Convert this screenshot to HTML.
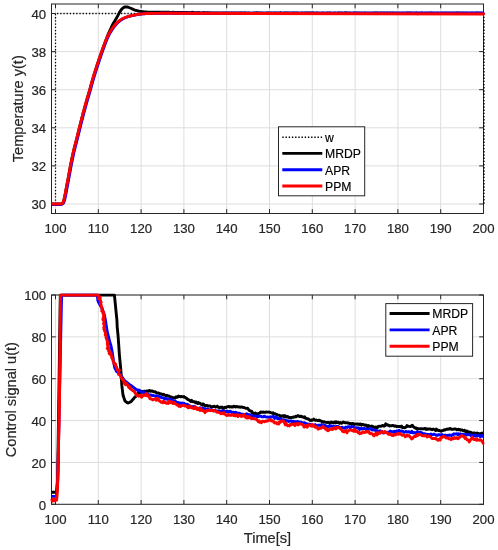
<!DOCTYPE html>
<html><head><meta charset="utf-8"><title>Plot</title>
<style>html,body{margin:0;padding:0;background:#fff;}body{width:498px;height:550px;overflow:hidden;}svg{display:block;}</style>
</head><body>
<svg width="498" height="550" viewBox="0 0 498 550">
<rect x="0" y="0" width="498" height="550" fill="#fff"/>
<g stroke="#dedede" stroke-width="1"><line x1="55.5" y1="4" x2="55.5" y2="213.5"/><line x1="98.3" y1="4" x2="98.3" y2="213.5"/><line x1="141.1" y1="4" x2="141.1" y2="213.5"/><line x1="183.9" y1="4" x2="183.9" y2="213.5"/><line x1="226.7" y1="4" x2="226.7" y2="213.5"/><line x1="269.5" y1="4" x2="269.5" y2="213.5"/><line x1="312.3" y1="4" x2="312.3" y2="213.5"/><line x1="355.1" y1="4" x2="355.1" y2="213.5"/><line x1="397.9" y1="4" x2="397.9" y2="213.5"/><line x1="440.7" y1="4" x2="440.7" y2="213.5"/><line x1="483.5" y1="4" x2="483.5" y2="213.5"/><line x1="51.5" y1="204" x2="483.5" y2="204"/><line x1="51.5" y1="165.9" x2="483.5" y2="165.9"/><line x1="51.5" y1="127.8" x2="483.5" y2="127.8"/><line x1="51.5" y1="89.7" x2="483.5" y2="89.7"/><line x1="51.5" y1="51.6" x2="483.5" y2="51.6"/><line x1="51.5" y1="13.5" x2="483.5" y2="13.5"/></g>
<path d="M55.5 213.5v-4.3M55.5 4v4.3M98.3 213.5v-4.3M98.3 4v4.3M141.1 213.5v-4.3M141.1 4v4.3M183.9 213.5v-4.3M183.9 4v4.3M226.7 213.5v-4.3M226.7 4v4.3M269.5 213.5v-4.3M269.5 4v4.3M312.3 213.5v-4.3M312.3 4v4.3M355.1 213.5v-4.3M355.1 4v4.3M397.9 213.5v-4.3M397.9 4v4.3M440.7 213.5v-4.3M440.7 4v4.3M483.5 213.5v-4.3M483.5 4v4.3M51.5 204h4.3M483.5 204h-4.3M51.5 165.9h4.3M483.5 165.9h-4.3M51.5 127.8h4.3M483.5 127.8h-4.3M51.5 89.7h4.3M483.5 89.7h-4.3M51.5 51.6h4.3M483.5 51.6h-4.3M51.5 13.5h4.3M483.5 13.5h-4.3" stroke="#262626" stroke-width="1" fill="none"/><rect x="51.5" y="4" width="432" height="209.5" fill="none" stroke="#262626" stroke-width="1"/>
<g fill="none" stroke-width="2.9" stroke-linejoin="round" stroke-linecap="butt">
<path d="M55.5 204 V13.5 H483.5" stroke="#000" stroke-width="1.3" stroke-dasharray="1.3 1.9"/>
<path d="M483.9 13.5 V204" stroke="#000" stroke-width="1.5" stroke-dasharray="1.4 1.8"/>
<path d="M51.5 204 L59 204 L59.66 204 L60.32 204 L60.97 204 L61.61 203.86 L62.18 203.53 L62.68 203.11 L63.01 202.54 L63.26 201.94 L63.49 201.32 L63.7 200.7 L63.88 200.06 L64.05 199.43 L64.2 198.79 L64.34 198.14 L64.49 197.5 L64.63 196.86 L64.77 196.22 L64.9 195.57 L65.03 194.93 L65.16 194.28 L65.28 193.64 L65.41 192.99 L65.53 192.34 L65.65 191.69 L65.76 191.05 L65.88 190.4 L66 189.75 L66.12 189.11 L66.23 188.46 L66.35 187.81 L66.47 187.16 L66.6 186.52 L66.72 185.87 L66.84 185.23 L66.97 184.58 L67.09 183.93 L67.22 183.29 L67.34 182.64 L67.47 181.99 L67.59 181.35 L67.71 180.7 L67.84 180.06 L67.96 179.41 L68.09 178.76 L68.21 178.12 L68.33 177.47 L68.45 176.82 L68.57 176.18 L68.69 175.53 L68.81 174.88 L68.93 174.24 L69.05 173.59 L69.16 172.94 L69.28 172.29 L69.39 171.65 L69.51 171 L69.62 170.35 L69.74 169.7 L69.85 169.05 L69.97 168.41 L70.09 167.76 L70.21 167.11 L70.33 166.47 L70.45 165.82 L70.58 165.17 L70.71 164.53 L70.84 163.88 L70.96 163.24 L71.09 162.59 L71.22 161.95 L71.35 161.3 L71.49 160.66 L71.62 160.01 L71.75 159.37 L71.89 158.73 L72.02 158.08 L72.16 157.44 L72.29 156.79 L72.43 156.15 L72.57 155.51 L72.71 154.87 L72.85 154.22 L73 153.58 L73.14 152.94 L73.29 152.3 L73.43 151.66 L73.58 151.01 L73.73 150.37 L73.88 149.73 L74.04 149.09 L74.19 148.45 L74.35 147.82 L74.51 147.18 L74.67 146.54 L74.84 145.9 L75 145.27 L75.17 144.63 L75.34 143.99 L75.5 143.36 L75.67 142.72 L75.84 142.08 L76 141.45 L76.17 140.81 L76.33 140.17 L76.49 139.54 L76.65 138.9 L76.81 138.26 L76.97 137.62 L77.13 136.98 L77.29 136.34 L77.44 135.7 L77.6 135.07 L77.76 134.43 L77.92 133.79 L78.07 133.15 L78.23 132.51 L78.39 131.87 L78.55 131.23 L78.7 130.59 L78.86 129.96 L79.02 129.32 L79.18 128.68 L79.34 128.04 L79.5 127.4 L79.66 126.76 L79.82 126.13 L79.98 125.49 L80.14 124.85 L80.3 124.21 L80.46 123.57 L80.62 122.93 L80.78 122.3 L80.94 121.66 L81.11 121.02 L81.27 120.38 L81.43 119.75 L81.59 119.11 L81.76 118.47 L81.92 117.83 L82.09 117.2 L82.25 116.56 L82.42 115.92 L82.59 115.29 L82.75 114.65 L82.92 114.02 L83.09 113.38 L83.26 112.74 L83.43 112.11 L83.6 111.47 L83.77 110.84 L83.94 110.2 L84.11 109.57 L84.29 108.93 L84.46 108.3 L84.63 107.66 L84.81 107.03 L84.98 106.39 L85.15 105.76 L85.33 105.12 L85.5 104.49 L85.68 103.86 L85.86 103.22 L86.03 102.59 L86.21 101.96 L86.39 101.32 L86.57 100.69 L86.75 100.06 L86.93 99.42 L87.12 98.79 L87.3 98.16 L87.49 97.53 L87.67 96.9 L87.86 96.27 L88.04 95.63 L88.23 95 L88.41 94.37 L88.6 93.74 L88.78 93.11 L88.97 92.48 L89.15 91.85 L89.34 91.22 L89.52 90.58 L89.7 89.95 L89.88 89.32 L90.06 88.68 L90.24 88.05 L90.41 87.42 L90.59 86.78 L90.77 86.15 L90.94 85.52 L91.12 84.88 L91.29 84.25 L91.47 83.61 L91.64 82.98 L91.82 82.34 L91.99 81.71 L92.17 81.08 L92.35 80.44 L92.53 79.81 L92.71 79.18 L92.89 78.55 L93.08 77.91 L93.26 77.28 L93.45 76.65 L93.64 76.02 L93.83 75.39 L94.03 74.76 L94.22 74.14 L94.41 73.51 L94.61 72.88 L94.81 72.25 L95 71.62 L95.2 71 L95.4 70.37 L95.6 69.74 L95.8 69.12 L96 68.49 L96.2 67.86 L96.41 67.24 L96.61 66.61 L96.82 65.99 L97.02 65.36 L97.22 64.74 L97.43 64.11 L97.64 63.49 L97.84 62.86 L98.05 62.24 L98.26 61.61 L98.47 60.99 L98.67 60.36 L98.88 59.74 L99.1 59.12 L99.31 58.49 L99.52 57.87 L99.73 57.25 L99.94 56.63 L100.16 56 L100.37 55.38 L100.59 54.76 L100.81 54.14 L101.02 53.52 L101.24 52.9 L101.46 52.28 L101.68 51.66 L101.9 51.04 L102.12 50.42 L102.34 49.8 L102.57 49.18 L102.79 48.56 L103.02 47.94 L103.24 47.32 L103.47 46.71 L103.7 46.09 L103.93 45.47 L104.15 44.86 L104.38 44.24 L104.61 43.62 L104.85 43.01 L105.08 42.39 L105.31 41.77 L105.54 41.16 L105.77 40.54 L106 39.93 L106.23 39.31 L106.46 38.69 L106.69 38.08 L106.93 37.46 L107.16 36.85 L107.4 36.23 L107.64 35.62 L107.88 35.01 L108.13 34.4 L108.39 33.8 L108.65 33.19 L108.92 32.59 L109.19 31.99 L109.47 31.4 L109.75 30.8 L110.03 30.21 L110.31 29.61 L110.59 29.01 L110.86 28.42 L111.13 27.82 L111.4 27.22 L111.67 26.62 L111.95 26.02 L112.23 25.43 L112.52 24.84 L112.83 24.25 L113.14 23.67 L113.47 23.1 L113.81 22.54 L114.15 21.98 L114.5 21.42 L114.85 20.86 L115.18 20.3 L115.52 19.73 L115.85 19.16 L116.18 18.59 L116.51 18.02 L116.83 17.45 L117.16 16.88 L117.48 16.3 L117.8 15.73 L118.1 15.14 L118.4 14.56 L118.69 13.97 L118.99 13.38 L119.29 12.8 L119.6 12.22 L119.94 11.65 L120.3 11.1 L120.67 10.56 L121.05 10.02 L121.45 9.5 L121.88 9 L122.34 8.53 L122.85 8.12 L123.36 7.7 L123.91 7.33 L124.5 7.06 L125.15 7 L125.81 7 L126.47 7 L127.13 7 L127.78 7.05 L128.41 7.25 L129.01 7.51 L129.62 7.77 L130.23 8.01 L130.83 8.28 L131.43 8.55 L132.03 8.81 L132.64 9.07 L133.24 9.34 L133.85 9.6 L134.45 9.85 L135.07 10.09 L135.69 10.31 L136.32 10.49 L136.95 10.66 L137.59 10.83 L138.23 10.97 L138.88 11.11 L139.52 11.23 L140.17 11.33 L140.83 11.42 L141.48 11.51 L142.13 11.6 L142.78 11.68 L143.43 11.76 L144.09 11.84 L144.74 11.91 L145.4 11.96 L146.05 12.01 L146.71 12.05 L147.37 12.08 L148.03 12.1 L148.68 12.11 L149.34 12.12 L150 12.13 L150.66 12.13 L151.32 12.14 L151.97 12.15 L152.63 12.15 L153.29 12.15 L153.95 12.16 L154.61 12.16 L155.26 12.17 L155.92 12.17 L156.58 12.17 L157.24 12.18 L157.89 12.18 L158.55 12.19 L159.21 12.19 L159.87 12.2 L160.53 12.21 L161.18 12.21 L161.84 12.22 L162.5 12.23 L163.16 12.23 L163.82 12.24 L164.47 12.25 L165.13 12.26 L165.79 12.27 L166.45 12.27 L167.11 12.28 L167.76 12.29 L168.42 12.3 L169.08 12.31 L169.74 12.32 L170.39 12.38 L171.3 12.47 L172.2 12.41 L173.11 12.17 L174.01 12.52 L174.92 12.47 L175.82 12.33 L176.73 12.51 L177.63 12.49 L178.54 12.49 L179.44 12.46 L180.35 12.55 L181.25 12.37 L182.16 12.47 L183.06 12.44 L183.97 12.61 L184.87 12.54 L185.78 12.5 L186.68 12.44 L187.59 12.53 L188.49 12.58 L189.4 12.55 L190.3 12.8 L191.21 12.77 L192.11 12.22 L193.02 12.36 L193.92 12.63 L194.83 12.6 L195.73 12.71 L196.64 12.72 L197.54 13.02 L198.45 12.55 L199.35 12.67 L200.26 13.04 L201.16 12.85 L202.06 12.86 L202.97 12.7 L203.87 12.54 L204.78 12.82 L205.68 12.83 L206.59 12.64 L207.49 12.73 L208.4 12.83 L209.3 12.72 L210.21 12.85 L211.11 12.9 L212.02 12.9 L212.92 12.83 L213.83 13.01 L214.73 13.06 L215.64 12.99 L216.54 12.83 L217.45 13.08 L218.35 12.9 L219.26 13.12 L220.16 12.84 L221.07 13.14 L221.97 13 L222.88 12.82 L223.78 12.96 L224.69 13.01 L225.59 13.05 L226.5 12.86 L227.4 12.84 L228.31 13.04 L229.21 12.94 L230.12 13.05 L231.02 13.13 L231.93 12.77 L232.83 13.05 L233.74 13.2 L234.64 12.97 L235.55 12.9 L236.45 13.13 L237.36 13.06 L238.26 13.16 L239.17 12.97 L240.07 12.8 L240.98 13.01 L241.88 12.96 L242.79 13.14 L243.69 13.06 L244.6 12.78 L245.5 12.85 L246.41 13.16 L247.31 13.13 L248.22 12.94 L249.12 13.03 L250.03 13.1 L250.93 13.11 L251.84 13.17 L252.74 13.08 L253.64 13.02 L254.55 13 L255.45 13.2 L256.36 12.7 L257.26 13.02 L258.17 13.05 L259.07 12.83 L259.98 13.1 L260.88 12.95 L261.79 13.18 L262.69 13.03 L263.6 13.15 L264.5 13.23 L265.41 13.11 L266.31 12.92 L267.22 12.83 L268.12 13.32 L269.03 13.04 L269.93 12.95 L270.84 13.08 L271.74 13.03 L272.65 13.19 L273.55 13.07 L274.46 13.06 L275.36 12.96 L276.27 13.13 L277.17 12.91 L278.08 13.17 L278.98 13.3 L279.89 12.84 L280.79 12.7 L281.7 13.16 L282.6 13.45 L283.51 12.92 L284.41 12.89 L285.32 13.16 L286.22 12.95 L287.13 13 L288.03 13.03 L288.94 13.16 L289.84 13.02 L290.75 13.12 L291.65 13.06 L292.56 12.96 L293.46 13.04 L294.37 12.94 L295.27 13.09 L296.18 12.92 L297.08 12.92 L297.99 13.31 L298.89 13.08 L299.8 13.08 L300.7 13.17 L301.61 13.03 L302.51 13.06 L303.42 13.16 L304.32 13.14 L305.23 12.92 L306.13 13.22 L307.04 13.01 L307.94 12.94 L308.85 12.97 L309.75 13.04 L310.66 13.35 L311.56 12.93 L312.47 13.13 L313.37 12.79 L314.28 13.11 L315.18 13.24 L316.09 13.07 L316.99 13.02 L317.9 13.15 L318.8 13.22 L319.71 13.21 L320.61 13.41 L321.52 13.15 L322.42 13.03 L323.33 13.1 L324.23 13.11 L325.14 13.14 L326.04 13.12 L326.95 13.15 L327.85 12.87 L328.76 13.25 L329.66 13.04 L330.56 12.95 L331.47 13.22 L332.37 13.33 L333.28 13.2 L334.18 13.15 L335.09 12.99 L335.99 13.56 L336.9 13.27 L337.8 12.96 L338.71 13.02 L339.61 13.15 L340.52 12.9 L341.42 13.16 L342.33 13.07 L343.23 13.32 L344.14 13.29 L345.04 12.74 L345.95 13.15 L346.85 12.9 L347.76 13.31 L348.66 13.17 L349.57 13.23 L350.47 12.99 L351.38 13.42 L352.28 13.45 L353.19 12.99 L354.09 13.21 L355 13.05 L355.9 13.15 L356.81 12.97 L357.71 13.44 L358.62 13.01 L359.52 13.11 L360.43 13.24 L361.33 13.06 L362.24 13.13 L363.14 13.08 L364.05 13.14 L364.95 12.99 L365.86 13.1 L366.76 13.14 L367.67 13.12 L368.57 13.18 L369.48 13.13 L370.38 13.28 L371.29 13.12 L372.19 13.15 L373.1 13.07 L374 13.1 L374.91 12.99 L375.81 13.26 L376.72 13.01 L377.62 13.07 L378.53 13.23 L379.43 13.24 L380.34 13.12 L381.24 12.88 L382.15 13.25 L383.05 13.22 L383.96 12.97 L384.86 13.3 L385.77 13.08 L386.67 13.02 L387.58 13.21 L388.48 13.17 L389.39 13.22 L390.29 12.95 L391.2 13.47 L392.1 13.11 L393.01 12.97 L393.91 13.29 L394.82 13.15 L395.72 13.25 L396.63 13.15 L397.53 13.19 L398.44 13.24 L399.34 13.09 L400.25 13.31 L401.15 13.14 L402.06 13.08 L402.96 13.22 L403.87 13.28 L404.77 13.18 L405.68 13.08 L406.58 13.31 L407.48 12.95 L408.39 13.06 L409.29 13.22 L410.2 13.01 L411.1 13.22 L412.01 13.21 L412.91 13.35 L413.82 13.08 L414.72 13.13 L415.63 13.27 L416.53 12.86 L417.44 13.69 L418.34 13.12 L419.25 13.12 L420.15 13.36 L421.06 13.22 L421.96 12.96 L422.87 13.33 L423.77 13.36 L424.68 13.17 L425.58 13.19 L426.49 13.31 L427.39 13.1 L428.3 13.3 L429.2 13.27 L430.11 13.14 L431.01 13.03 L431.92 13.21 L432.82 13.11 L433.73 13.39 L434.63 13.27 L435.54 13.36 L436.44 13.27 L437.35 13.29 L438.25 13.13 L439.16 13.35 L440.06 13.52 L440.97 13.21 L441.87 13.16 L442.78 13.23 L443.68 13.18 L444.59 13.15 L445.49 13.28 L446.4 13.21 L447.3 13.47 L448.21 13.26 L449.11 13.31 L450.02 13.4 L450.92 13.22 L451.83 13.48 L452.73 13.17 L453.64 13.14 L454.54 13.21 L455.45 13.25 L456.35 13.06 L457.26 13.26 L458.16 13.02 L459.07 13.48 L459.97 13.26 L460.88 13.18 L461.78 13.14 L462.69 13.22 L463.59 13.24 L464.5 13.12 L465.4 13.14 L466.31 13.25 L467.21 13.2 L468.12 13.42 L469.02 13.45 L469.93 13.29 L470.83 13.36 L471.74 13.09 L472.64 13.38 L473.55 13.28 L474.45 13.36 L475.36 13.53 L476.26 12.95 L477.17 13.33 L478.07 13.13 L478.98 13.38 L479.88 13.1 L480.79 13.22 L481.69 13.33 L482.6 13.39 L483.5 13.31" stroke="#000"/>
<path d="M51.5 204.5 L59 204.5 L59.61 204.5 L60.22 204.5 L60.83 204.5 L61.43 204.43 L61.98 204.16 L63.18 203.3 L63.57 202.84 L63.82 202.29 L64.04 201.72 L64.25 201.14 L64.44 200.56 L64.61 199.98 L64.76 199.38 L64.9 198.79 L65.03 198.2 L65.17 197.6 L65.3 197 L65.43 196.41 L65.56 195.81 L65.68 195.21 L65.8 194.61 L65.91 194.01 L66.03 193.41 L66.14 192.81 L66.25 192.21 L66.36 191.61 L66.47 191.01 L66.58 190.41 L66.69 189.81 L66.8 189.21 L66.91 188.61 L67.02 188.01 L67.13 187.41 L67.24 186.81 L67.36 186.21 L67.47 185.61 L67.59 185.01 L67.7 184.41 L67.82 183.81 L67.93 183.21 L68.05 182.61 L68.16 182.01 L68.28 181.41 L68.39 180.81 L68.51 180.21 L68.62 179.61 L68.74 179.01 L68.85 178.41 L68.97 177.81 L69.08 177.21 L69.19 176.61 L69.3 176.01 L69.42 175.41 L69.53 174.81 L69.64 174.21 L69.74 173.61 L69.85 173.01 L69.96 172.41 L70.06 171.8 L70.17 171.2 L70.28 170.6 L70.38 170 L70.49 169.4 L70.6 168.8 L70.71 168.2 L70.82 167.6 L70.93 167 L71.04 166.4 L71.16 165.8 L71.28 165.2 L71.39 164.6 L71.51 164 L71.63 163.4 L71.75 162.8 L71.87 162.2 L71.99 161.61 L72.11 161.01 L72.24 160.41 L72.36 159.81 L72.48 159.21 L72.61 158.62 L72.73 158.02 L72.86 157.42 L72.99 156.82 L73.12 156.23 L73.25 155.63 L73.38 155.03 L73.51 154.44 L73.64 153.84 L73.77 153.24 L73.91 152.65 L74.04 152.05 L74.18 151.46 L74.32 150.86 L74.45 150.27 L74.6 149.67 L74.74 149.08 L74.88 148.49 L75.03 147.9 L75.18 147.3 L75.33 146.71 L75.48 146.12 L75.63 145.53 L75.79 144.94 L75.94 144.35 L76.1 143.76 L76.25 143.17 L76.41 142.58 L76.56 141.98 L76.72 141.39 L76.87 140.8 L77.02 140.21 L77.17 139.62 L77.32 139.03 L77.47 138.43 L77.61 137.84 L77.76 137.25 L77.91 136.66 L78.06 136.06 L78.2 135.47 L78.35 134.88 L78.49 134.29 L78.64 133.69 L78.79 133.1 L78.93 132.51 L79.08 131.91 L79.22 131.32 L79.37 130.73 L79.52 130.14 L79.66 129.54 L79.81 128.95 L79.96 128.36 L80.11 127.77 L80.26 127.17 L80.41 126.58 L80.55 125.99 L80.7 125.4 L80.85 124.8 L81 124.21 L81.15 123.62 L81.3 123.03 L81.45 122.44 L81.6 121.84 L81.75 121.25 L81.9 120.66 L82.05 120.07 L82.2 119.48 L82.35 118.89 L82.5 118.29 L82.66 117.7 L82.81 117.11 L82.96 116.52 L83.12 115.93 L83.27 115.34 L83.43 114.75 L83.59 114.16 L83.74 113.57 L83.9 112.98 L84.06 112.39 L84.21 111.8 L84.37 111.21 L84.53 110.62 L84.69 110.03 L84.85 109.44 L85.01 108.85 L85.17 108.26 L85.33 107.67 L85.49 107.08 L85.65 106.5 L85.81 105.91 L85.98 105.32 L86.14 104.73 L86.3 104.14 L86.47 103.55 L86.63 102.96 L86.79 102.38 L86.96 101.79 L87.13 101.2 L87.29 100.61 L87.46 100.03 L87.63 99.44 L87.8 98.85 L87.97 98.27 L88.14 97.68 L88.31 97.09 L88.48 96.51 L88.66 95.92 L88.83 95.34 L89 94.75 L89.17 94.17 L89.34 93.58 L89.52 92.99 L89.69 92.41 L89.86 91.82 L90.03 91.24 L90.2 90.65 L90.37 90.06 L90.54 89.47 L90.7 88.89 L90.87 88.3 L91.03 87.71 L91.2 87.12 L91.36 86.54 L91.52 85.95 L91.68 85.36 L91.85 84.77 L92.01 84.18 L92.17 83.59 L92.33 83 L92.5 82.41 L92.66 81.83 L92.82 81.24 L92.99 80.65 L93.16 80.06 L93.32 79.48 L93.49 78.89 L93.66 78.3 L93.84 77.72 L94.01 77.13 L94.19 76.55 L94.36 75.96 L94.54 75.38 L94.72 74.79 L94.9 74.21 L95.08 73.63 L95.26 73.04 L95.44 72.46 L95.62 71.88 L95.81 71.3 L95.99 70.71 L96.18 70.13 L96.36 69.55 L96.55 68.97 L96.74 68.39 L96.92 67.81 L97.11 67.23 L97.3 66.65 L97.49 66.06 L97.68 65.48 L97.87 64.9 L98.06 64.32 L98.25 63.74 L98.44 63.16 L98.63 62.58 L98.83 62 L99.02 61.43 L99.21 60.85 L99.41 60.27 L99.6 59.69 L99.8 59.11 L99.99 58.53 L100.19 57.95 L100.39 57.38 L100.59 56.8 L100.78 56.22 L100.98 55.64 L101.18 55.07 L101.38 54.49 L101.58 53.91 L101.79 53.34 L101.99 52.76 L102.19 52.19 L102.4 51.61 L102.6 51.03 L102.8 50.46 L103.01 49.88 L103.21 49.31 L103.41 48.73 L103.62 48.16 L103.82 47.58 L104.03 47.01 L104.24 46.43 L104.44 45.86 L104.65 45.28 L104.86 44.71 L105.08 44.14 L105.29 43.57 L105.51 43 L105.73 42.43 L105.95 41.86 L106.18 41.29 L106.41 40.73 L106.64 40.16 L106.88 39.6 L107.11 39.04 L107.35 38.47 L107.59 37.91 L107.84 37.35 L108.09 36.8 L108.34 36.24 L108.61 35.69 L108.87 35.14 L109.15 34.6 L109.44 34.06 L109.73 33.52 L110.03 32.99 L110.34 32.46 L110.66 31.94 L110.98 31.42 L111.31 30.91 L111.64 30.4 L111.97 29.88 L112.31 29.38 L112.66 28.87 L113 28.37 L113.36 27.87 L113.72 27.38 L114.08 26.89 L114.46 26.41 L114.84 25.93 L115.22 25.45 L115.61 24.98 L116 24.52 L116.4 24.05 L116.81 23.6 L117.23 23.16 L117.66 22.73 L118.11 22.31 L118.57 21.91 L119.04 21.52 L119.52 21.14 L120 20.77 L120.5 20.41 L121 20.06 L121.51 19.73 L122.02 19.4 L122.55 19.08 L123.08 18.78 L123.62 18.49 L124.16 18.22 L124.71 17.96 L125.27 17.71 L125.83 17.47 L126.4 17.25 L126.98 17.04 L127.55 16.85 L128.14 16.67 L128.72 16.49 L129.31 16.33 L129.9 16.17 L130.49 16.02 L131.09 15.87 L131.68 15.73 L132.27 15.59 L132.87 15.46 L133.47 15.34 L134.07 15.22 L134.67 15.1 L135.27 14.99 L135.87 14.89 L136.47 14.78 L137.07 14.68 L137.67 14.58 L138.28 14.48 L138.88 14.38 L139.48 14.29 L140.09 14.2 L140.69 14.12 L141.3 14.04 L141.91 13.98 L142.51 13.92 L143.12 13.86 L143.73 13.8 L144.34 13.75 L144.95 13.7 L145.56 13.66 L146.16 13.63 L146.77 13.6 L147.38 13.57 L148 13.55 L148.61 13.53 L149.22 13.5 L149.83 13.49 L150.44 13.47 L151.05 13.45 L151.66 13.44 L152.27 13.42 L152.88 13.41 L153.49 13.4 L154.1 13.39 L154.71 13.39 L155.32 13.38 L155.93 13.37 L156.54 13.36 L157.15 13.36 L157.76 13.35 L158.37 13.34 L158.98 13.34 L159.59 13.33 L160.2 13.33 L160.82 13.32 L161.43 13.32 L162.04 13.31 L162.65 13.31 L163.26 13.31 L163.87 13.3 L164.48 13.3 L165.09 13.3 L165.7 13.3 L483.5 13.06 L483.5 12.84" stroke="#0000ff"/>
<path d="M51.5 204 L59 204 L59.61 204 L60.22 204 L60.83 204 L61.43 203.93 L61.98 203.66 L62.48 203.3 L62.87 202.84 L63.12 202.29 L63.34 201.72 L63.55 201.14 L63.74 200.56 L63.91 199.98 L64.06 199.38 L64.2 198.79 L64.33 198.2 L64.47 197.6 L64.6 197 L64.73 196.41 L64.86 195.81 L64.98 195.21 L65.1 194.61 L65.21 194.01 L65.33 193.41 L65.44 192.81 L65.55 192.21 L65.66 191.61 L65.77 191.01 L65.88 190.41 L65.99 189.81 L66.1 189.21 L66.21 188.61 L66.32 188.01 L66.43 187.41 L66.54 186.81 L66.66 186.21 L66.77 185.61 L66.89 185.01 L67 184.41 L67.12 183.81 L67.23 183.21 L67.35 182.61 L67.46 182.01 L67.58 181.41 L67.69 180.81 L67.81 180.21 L67.92 179.61 L68.04 179.01 L68.15 178.41 L68.27 177.81 L68.38 177.21 L68.49 176.61 L68.6 176.01 L68.72 175.41 L68.83 174.81 L68.94 174.21 L69.04 173.61 L69.15 173.01 L69.26 172.41 L69.36 171.8 L69.47 171.2 L69.58 170.6 L69.68 170 L69.79 169.4 L69.9 168.8 L70.01 168.2 L70.12 167.6 L70.23 167 L70.34 166.4 L70.46 165.8 L70.58 165.2 L70.69 164.6 L70.81 164 L70.93 163.4 L71.05 162.8 L71.17 162.2 L71.29 161.61 L71.41 161.01 L71.54 160.41 L71.66 159.81 L71.78 159.21 L71.91 158.62 L72.03 158.02 L72.16 157.42 L72.29 156.82 L72.42 156.23 L72.55 155.63 L72.68 155.03 L72.81 154.44 L72.94 153.84 L73.07 153.24 L73.21 152.65 L73.34 152.05 L73.48 151.46 L73.62 150.86 L73.75 150.27 L73.9 149.67 L74.04 149.08 L74.18 148.49 L74.33 147.9 L74.48 147.3 L74.63 146.71 L74.78 146.12 L74.93 145.53 L75.09 144.94 L75.24 144.35 L75.4 143.76 L75.55 143.17 L75.71 142.58 L75.86 141.98 L76.02 141.39 L76.17 140.8 L76.32 140.21 L76.47 139.62 L76.62 139.03 L76.77 138.43 L76.91 137.84 L77.06 137.25 L77.21 136.66 L77.36 136.06 L77.5 135.47 L77.65 134.88 L77.79 134.29 L77.94 133.69 L78.09 133.1 L78.23 132.51 L78.38 131.91 L78.52 131.32 L78.67 130.73 L78.82 130.14 L78.96 129.54 L79.11 128.95 L79.26 128.36 L79.41 127.77 L79.56 127.17 L79.71 126.58 L79.85 125.99 L80 125.4 L80.15 124.8 L80.3 124.21 L80.45 123.62 L80.6 123.03 L80.75 122.44 L80.9 121.84 L81.05 121.25 L81.2 120.66 L81.35 120.07 L81.5 119.48 L81.65 118.89 L81.8 118.29 L81.96 117.7 L82.11 117.11 L82.26 116.52 L82.42 115.93 L82.57 115.34 L82.73 114.75 L82.89 114.16 L83.04 113.57 L83.2 112.98 L83.36 112.39 L83.51 111.8 L83.67 111.21 L83.83 110.62 L83.99 110.03 L84.15 109.44 L84.31 108.85 L84.47 108.26 L84.63 107.67 L84.79 107.08 L84.95 106.5 L85.11 105.91 L85.28 105.32 L85.44 104.73 L85.6 104.14 L85.77 103.55 L85.93 102.96 L86.09 102.38 L86.26 101.79 L86.43 101.2 L86.59 100.61 L86.76 100.03 L86.93 99.44 L87.1 98.85 L87.27 98.27 L87.44 97.68 L87.61 97.09 L87.78 96.51 L87.96 95.92 L88.13 95.34 L88.3 94.75 L88.47 94.17 L88.64 93.58 L88.82 92.99 L88.99 92.41 L89.16 91.82 L89.33 91.24 L89.5 90.65 L89.67 90.06 L89.84 89.47 L90 88.89 L90.17 88.3 L90.33 87.71 L90.5 87.12 L90.66 86.54 L90.82 85.95 L90.98 85.36 L91.15 84.77 L91.31 84.18 L91.47 83.59 L91.63 83 L91.8 82.41 L91.96 81.83 L92.12 81.24 L92.29 80.65 L92.46 80.06 L92.62 79.48 L92.79 78.89 L92.96 78.3 L93.14 77.72 L93.31 77.13 L93.49 76.55 L93.66 75.96 L93.84 75.38 L94.02 74.79 L94.2 74.21 L94.38 73.63 L94.56 73.04 L94.74 72.46 L94.92 71.88 L95.11 71.3 L95.29 70.71 L95.48 70.13 L95.66 69.55 L95.85 68.97 L96.04 68.39 L96.22 67.81 L96.41 67.23 L96.6 66.65 L96.79 66.06 L96.98 65.48 L97.17 64.9 L97.36 64.32 L97.55 63.74 L97.74 63.16 L97.93 62.58 L98.13 62 L98.32 61.43 L98.51 60.85 L98.71 60.27 L98.9 59.69 L99.1 59.11 L99.29 58.53 L99.49 57.95 L99.69 57.38 L99.89 56.8 L100.08 56.22 L100.28 55.64 L100.48 55.07 L100.68 54.49 L100.88 53.91 L101.09 53.34 L101.29 52.76 L101.49 52.19 L101.7 51.61 L101.9 51.03 L102.1 50.46 L102.31 49.88 L102.51 49.31 L102.71 48.73 L102.92 48.16 L103.12 47.58 L103.33 47.01 L103.54 46.43 L103.74 45.86 L103.95 45.28 L104.16 44.71 L104.38 44.14 L104.59 43.57 L104.81 43 L105.03 42.43 L105.25 41.86 L105.48 41.29 L105.71 40.73 L105.94 40.16 L106.18 39.6 L106.41 39.04 L106.65 38.47 L106.89 37.91 L107.14 37.35 L107.39 36.8 L107.64 36.24 L107.91 35.69 L108.17 35.14 L108.45 34.6 L108.74 34.06 L109.03 33.52 L109.33 32.99 L109.64 32.46 L109.96 31.94 L110.28 31.42 L110.61 30.91 L110.94 30.4 L111.27 29.88 L111.61 29.38 L111.96 28.87 L112.3 28.37 L112.66 27.87 L113.02 27.38 L113.38 26.89 L113.76 26.41 L114.14 25.93 L114.52 25.45 L114.91 24.98 L115.3 24.52 L115.7 24.05 L116.11 23.6 L116.53 23.16 L116.96 22.73 L117.41 22.31 L117.87 21.91 L118.34 21.52 L118.82 21.14 L119.3 20.77 L119.8 20.41 L120.3 20.06 L120.81 19.73 L121.32 19.4 L121.85 19.08 L122.38 18.78 L122.92 18.49 L123.46 18.22 L124.01 17.96 L124.57 17.71 L125.13 17.47 L125.7 17.25 L126.28 17.04 L126.85 16.85 L127.44 16.67 L128.02 16.49 L128.61 16.33 L129.2 16.17 L129.79 16.02 L130.39 15.87 L130.98 15.73 L131.57 15.59 L132.17 15.46 L132.77 15.34 L133.37 15.22 L133.97 15.1 L134.57 14.99 L135.17 14.89 L135.77 14.78 L136.37 14.68 L136.97 14.58 L137.58 14.48 L138.18 14.38 L138.78 14.29 L139.39 14.2 L139.99 14.12 L140.6 14.04 L141.21 13.98 L141.81 13.92 L142.42 13.86 L143.03 13.8 L143.64 13.75 L144.25 13.7 L144.86 13.66 L145.46 13.63 L146.07 13.6 L146.68 13.57 L147.3 13.55 L147.91 13.53 L148.52 13.5 L149.13 13.49 L149.74 13.47 L150.35 13.45 L150.96 13.44 L151.57 13.42 L152.18 13.41 L152.79 13.4 L153.4 13.39 L154.01 13.39 L154.62 13.38 L155.23 13.37 L155.84 13.36 L156.45 13.36 L157.06 13.35 L157.67 13.34 L158.28 13.34 L158.89 13.33 L159.5 13.33 L160.12 13.32 L160.73 13.32 L161.34 13.31 L161.95 13.31 L162.56 13.31 L163.17 13.3 L163.78 13.3 L164.39 13.3 L165 13.3 L483.5 14.01 L483.5 12.63" stroke="#ff0000"/>
</g>
<g font-family="'Liberation Sans', Arial, sans-serif" font-size="13.2" fill="#262626" stroke="#262626" stroke-width="0.2"><text x="55.5" y="233.1" text-anchor="middle">100</text><text x="98.3" y="233.1" text-anchor="middle">110</text><text x="141.1" y="233.1" text-anchor="middle">120</text><text x="183.9" y="233.1" text-anchor="middle">130</text><text x="226.7" y="233.1" text-anchor="middle">140</text><text x="269.5" y="233.1" text-anchor="middle">150</text><text x="312.3" y="233.1" text-anchor="middle">160</text><text x="355.1" y="233.1" text-anchor="middle">170</text><text x="397.9" y="233.1" text-anchor="middle">180</text><text x="440.7" y="233.1" text-anchor="middle">190</text><text x="483.5" y="233.1" text-anchor="middle">200</text><text x="46.2" y="209.2" text-anchor="end">30</text><text x="46.2" y="171.1" text-anchor="end">32</text><text x="46.2" y="133" text-anchor="end">34</text><text x="46.2" y="94.9" text-anchor="end">36</text><text x="46.2" y="56.8" text-anchor="end">38</text><text x="46.2" y="18.7" text-anchor="end">40</text></g>
<g stroke="#dedede" stroke-width="1"><line x1="55.5" y1="295" x2="55.5" y2="504.3"/><line x1="98.3" y1="295" x2="98.3" y2="504.3"/><line x1="141.1" y1="295" x2="141.1" y2="504.3"/><line x1="183.9" y1="295" x2="183.9" y2="504.3"/><line x1="226.7" y1="295" x2="226.7" y2="504.3"/><line x1="269.5" y1="295" x2="269.5" y2="504.3"/><line x1="312.3" y1="295" x2="312.3" y2="504.3"/><line x1="355.1" y1="295" x2="355.1" y2="504.3"/><line x1="397.9" y1="295" x2="397.9" y2="504.3"/><line x1="440.7" y1="295" x2="440.7" y2="504.3"/><line x1="483.5" y1="295" x2="483.5" y2="504.3"/><line x1="51.5" y1="504.3" x2="483.5" y2="504.3"/><line x1="51.5" y1="462.44" x2="483.5" y2="462.44"/><line x1="51.5" y1="420.58" x2="483.5" y2="420.58"/><line x1="51.5" y1="378.72" x2="483.5" y2="378.72"/><line x1="51.5" y1="336.86" x2="483.5" y2="336.86"/><line x1="51.5" y1="295" x2="483.5" y2="295"/></g>
<path d="M55.5 504.3v-4.3M55.5 295v4.3M98.3 504.3v-4.3M98.3 295v4.3M141.1 504.3v-4.3M141.1 295v4.3M183.9 504.3v-4.3M183.9 295v4.3M226.7 504.3v-4.3M226.7 295v4.3M269.5 504.3v-4.3M269.5 295v4.3M312.3 504.3v-4.3M312.3 295v4.3M355.1 504.3v-4.3M355.1 295v4.3M397.9 504.3v-4.3M397.9 295v4.3M440.7 504.3v-4.3M440.7 295v4.3M483.5 504.3v-4.3M483.5 295v4.3M51.5 504.3h4.3M483.5 504.3h-4.3M51.5 462.44h4.3M483.5 462.44h-4.3M51.5 420.58h4.3M483.5 420.58h-4.3M51.5 378.72h4.3M483.5 378.72h-4.3M51.5 336.86h4.3M483.5 336.86h-4.3M51.5 295h4.3M483.5 295h-4.3" stroke="#262626" stroke-width="1" fill="none"/><rect x="51.5" y="295" width="432" height="209.3" fill="none" stroke="#262626" stroke-width="1"/>
<g fill="none" stroke-width="2.9" stroke-linejoin="round" stroke-linecap="butt">
<path d="M51.5 492.3 L52.3 492.3 L53.1 492.3 L53.9 492.3 L54.7 492.3 L55.5 492.3 L56.31 492.3 L56.55 491.7 L56.63 490.9 L56.7 490.1 L56.77 489.3 L56.84 488.5 L56.91 487.71 L56.98 486.91 L57.05 486.11 L57.12 485.31 L57.2 484.52 L57.27 483.72 L57.34 482.92 L57.41 482.12 L57.48 481.32 L57.55 480.53 L57.6 479.73 L57.62 478.93 L57.63 478.13 L57.64 477.33 L57.65 476.52 L57.66 475.72 L57.68 474.92 L57.69 474.12 L57.7 473.32 L57.71 472.52 L57.72 471.72 L57.74 470.92 L57.75 470.12 L57.76 469.32 L57.77 468.52 L57.78 467.71 L57.8 466.91 L57.81 466.11 L57.82 465.31 L57.83 464.51 L57.84 463.71 L57.86 462.91 L57.87 462.11 L57.88 461.31 L57.89 460.51 L57.9 459.71 L57.92 458.9 L57.93 458.1 L57.94 457.3 L57.95 456.5 L57.96 455.7 L57.98 454.9 L57.99 454.1 L58 453.3 L58.01 452.5 L58.02 451.7 L58.04 450.9 L58.05 450.1 L58.06 449.29 L58.07 448.49 L58.08 447.69 L58.1 446.89 L58.11 446.09 L58.12 445.29 L58.13 444.49 L58.14 443.69 L58.16 442.89 L58.17 442.09 L58.18 441.29 L58.19 440.48 L58.2 439.68 L58.22 438.88 L58.23 438.08 L58.24 437.28 L58.25 436.48 L58.26 435.68 L58.28 434.88 L58.29 434.08 L58.3 433.28 L58.31 432.48 L58.32 431.67 L58.34 430.87 L58.35 430.07 L58.36 429.27 L58.37 428.47 L58.38 427.67 L58.4 426.87 L58.41 426.07 L58.42 425.27 L58.43 424.47 L58.45 423.67 L58.46 422.87 L58.47 422.06 L58.48 421.26 L58.49 420.46 L58.5 419.66 L58.52 418.86 L58.53 418.06 L58.54 417.26 L58.55 416.46 L58.56 415.66 L58.57 414.86 L58.59 414.06 L58.6 413.25 L58.61 412.45 L58.62 411.65 L58.63 410.85 L58.64 410.05 L58.65 409.25 L58.67 408.45 L58.68 407.65 L58.69 406.85 L58.7 406.05 L58.71 405.25 L58.72 404.44 L58.74 403.64 L58.75 402.84 L58.76 402.04 L58.77 401.24 L58.78 400.44 L58.79 399.64 L58.8 398.84 L58.82 398.04 L58.83 397.24 L58.84 396.44 L58.85 395.64 L58.86 394.83 L58.87 394.03 L58.89 393.23 L58.9 392.43 L58.91 391.63 L58.92 390.83 L58.93 390.03 L58.94 389.23 L58.96 388.43 L58.97 387.63 L58.98 386.83 L58.99 386.02 L59 385.22 L59.01 384.42 L59.02 383.62 L59.04 382.82 L59.05 382.02 L59.06 381.22 L59.07 380.42 L59.08 379.62 L59.09 378.82 L59.11 378.02 L59.12 377.21 L59.13 376.41 L59.14 375.61 L59.15 374.81 L59.16 374.01 L59.17 373.21 L59.19 372.41 L59.2 371.61 L59.21 370.81 L59.22 370.01 L59.23 369.21 L59.24 368.4 L59.26 367.6 L59.27 366.8 L59.28 366 L59.29 365.2 L59.3 364.4 L59.31 363.6 L59.32 362.8 L59.34 362 L59.35 361.2 L59.36 360.4 L59.37 359.6 L59.38 358.79 L59.39 357.99 L59.41 357.19 L59.42 356.39 L59.43 355.59 L59.44 354.79 L59.45 353.99 L59.46 353.19 L59.47 352.39 L59.49 351.59 L59.5 350.79 L59.51 349.98 L59.52 349.18 L59.53 348.38 L59.54 347.58 L59.56 346.78 L59.57 345.98 L59.58 345.18 L59.59 344.38 L59.6 343.58 L59.61 342.78 L59.62 341.98 L59.64 341.17 L59.65 340.37 L59.66 339.57 L59.67 338.77 L59.68 337.97 L59.69 337.17 L59.71 336.37 L59.72 335.57 L59.73 334.77 L59.74 333.97 L59.75 333.17 L59.76 332.36 L59.77 331.56 L59.79 330.76 L59.8 329.96 L59.81 329.16 L59.82 328.36 L59.83 327.56 L59.84 326.76 L59.86 325.96 L59.87 325.16 L59.88 324.36 L59.89 323.56 L59.9 322.75 L59.91 321.95 L59.92 321.15 L59.94 320.35 L59.95 319.55 L59.96 318.75 L59.97 317.95 L59.98 317.15 L59.99 316.35 L60.01 315.55 L60.02 314.75 L60.03 313.94 L60.04 313.14 L60.05 312.34 L60.06 311.54 L60.07 310.74 L60.09 309.94 L60.1 309.14 L60.11 308.34 L60.12 307.54 L60.13 306.74 L60.14 305.94 L60.16 305.13 L60.17 304.33 L60.18 303.53 L60.19 302.73 L60.2 301.93 L60.21 301.13 L60.22 300.33 L60.24 299.53 L60.25 298.73 L60.26 297.93 L60.27 297.13 L60.28 296.32 L60.29 295.52 L60.68 295.1 L61.48 295.1 L62.28 295.1 L63.08 295.1 L63.88 295.1 L64.68 295.1 L65.48 295.1 L66.28 295.1 L67.08 295.1 L67.89 295.1 L68.69 295.1 L69.49 295.1 L70.29 295.1 L71.09 295.1 L71.89 295.1 L72.69 295.1 L73.49 295.1 L74.29 295.1 L75.09 295.1 L75.9 295.1 L76.7 295.1 L77.5 295.1 L78.3 295.1 L79.1 295.1 L79.9 295.1 L80.7 295.1 L81.5 295.1 L82.3 295.1 L83.1 295.1 L83.91 295.1 L84.71 295.1 L85.51 295.1 L86.31 295.1 L87.11 295.1 L87.91 295.1 L88.71 295.1 L89.51 295.1 L90.31 295.1 L91.11 295.1 L91.91 295.1 L92.72 295.1 L93.52 295.1 L94.32 295.1 L95.12 295.1 L95.92 295.1 L96.72 295.1 L97.52 295.1 L98.32 295.1 L99.12 295.1 L99.92 295.1 L100.73 295.1 L101.53 295.1 L102.33 295.1 L103.13 295.1 L103.93 295.1 L104.73 295.1 L105.53 295.1 L106.33 295.1 L107.13 295.1 L107.93 295.1 L108.74 295.1 L109.54 295.1 L110.34 295.1 L111.14 295.1 L111.94 295.1 L112.74 295.1 L113.54 295.1 L114.34 295.1 L114.55 295.74 L114.61 296.54 L114.67 297.34 L114.73 298.14 L114.8 298.94 L114.87 299.73 L114.95 300.53 L115.03 301.33 L115.11 302.12 L115.19 302.92 L115.27 303.72 L115.35 304.52 L115.42 305.31 L115.5 306.11 L115.58 306.91 L115.66 307.7 L115.74 308.5 L115.82 309.3 L115.9 310.09 L115.98 310.89 L116.06 311.69 L116.14 312.49 L116.22 313.28 L116.3 314.08 L116.38 314.88 L116.46 315.67 L116.54 316.47 L116.62 317.27 L116.7 318.06 L116.79 318.86 L116.87 319.66 L116.92 320.46 L116.95 321.26 L116.99 322.06 L117.02 322.86 L117.06 323.66 L117.09 324.46 L117.13 325.26 L117.16 326.06 L117.19 326.86 L117.26 327.66 L117.34 328.45 L117.42 329.25 L117.5 330.05 L117.58 330.84 L117.66 331.64 L117.74 332.44 L117.82 333.24 L117.9 334.03 L117.97 334.83 L118.05 335.63 L118.12 336.42 L118.18 337.22 L118.24 338.02 L118.29 338.82 L118.35 339.62 L118.41 340.42 L118.46 341.22 L118.52 342.02 L118.57 342.82 L118.63 343.62 L118.69 344.41 L118.74 345.21 L118.8 346.01 L118.85 346.81 L118.91 347.61 L118.96 348.41 L119.01 349.21 L119.07 350.01 L119.12 350.81 L119.17 351.61 L119.23 352.41 L119.28 353.21 L119.33 354 L119.39 354.8 L119.46 355.6 L119.54 356.4 L119.62 357.2 L119.7 357.99 L119.77 358.79 L119.85 359.59 L119.93 360.38 L120.01 361.18 L120.09 361.98 L120.17 362.77 L120.25 363.57 L120.32 364.37 L120.39 365.17 L120.47 365.96 L120.54 366.76 L120.61 367.56 L120.68 368.36 L120.75 369.16 L120.82 369.95 L120.89 370.75 L120.96 371.55 L121.02 372.35 L121.07 373.15 L121.12 373.95 L121.17 374.75 L121.22 375.55 L121.27 376.35 L121.32 377.15 L121.37 377.94 L121.42 378.74 L121.46 379.54 L121.51 380.34 L121.56 381.14 L121.61 381.94 L121.66 382.74 L121.71 383.54 L121.76 384.34 L121.82 385.14 L121.91 385.93 L122.01 386.73 L122.1 387.53 L122.19 388.32 L122.29 389.12 L122.38 389.91 L122.48 390.71 L122.57 391.5 L122.67 392.3 L122.76 393.09 L122.86 393.89 L122.95 394.68 L123.12 395.46 L123.37 396.22 L123.63 396.98 L123.88 397.74 L124.13 398.5 L124.39 399.26 L124.64 400.02 L124.89 400.78 L125.39 401.36 L126.05 401.8 L126.72 402.25 L127.39 402.69 L128.06 403.07 L128.77 402.71 L129.49 402.36 L130.21 402 L130.92 401.64 L131.47 401.07 L132 400.47 L132.54 399.87 L133.07 399.27 L133.6 398.67 L134.13 398.07 L134.61 397.42 L135.09 396.8 L135.57 396.69 L136.05 395.99 L136.53 394.66 L137.01 394.1 L137.65 393.54 L138.33 393.56 L139.01 392.88 L139.69 392.78 L140.37 391.32 L141.05 392.26 L141.84 391.49 L142.63 391.72 L143.43 391.31 L144.23 391.14 L145.02 391.39 L145.82 391.46 L146.62 391.02 L147.42 391.04 L148.22 391.37 L149.02 390.75 L149.82 390.49 L150.61 391.39 L151.39 391.15 L152.16 390.85 L152.94 391.48 L153.72 391.82 L154.49 391.72 L155.27 391.79 L156.05 392.59 L156.83 393.12 L157.61 392.86 L158.39 392.85 L159.16 393.49 L159.94 393.82 L160.72 393.61 L161.49 394.14 L162.27 394.54 L163.02 394.32 L163.77 394.36 L164.52 395.11 L165.27 395.35 L166.02 395.97 L166.77 395.3 L167.52 395.82 L168.27 396.03 L169.02 395.95 L169.78 396.97 L170.56 397.29 L171.35 396.9 L172.14 397.87 L172.93 397.76 L173.73 397.79 L174.52 397.82 L175.3 397.95 L176.07 396.82 L176.85 397.39 L177.62 397.18 L178.39 396.02 L179.16 396.66 L179.95 396.34 L180.74 396.85 L181.54 396.46 L182.33 396.73 L183.13 396.97 L183.92 396.58 L184.68 397.36 L185.36 397.51 L186.03 398.18 L186.7 398.21 L187.38 399.29 L188.05 399.53 L188.72 399.65 L189.4 400.39 L190.15 400.92 L190.9 401.42 L191.65 400.35 L192.4 401.62 L193.15 401.73 L193.9 401.79 L194.67 401.67 L195.43 402.8 L196.2 402.03 L196.97 402.99 L197.74 403.51 L198.5 402.58 L199.27 403.33 L200.04 403.16 L200.8 404.01 L201.57 404.75 L202.34 405.18 L203.11 403.89 L203.87 404.6 L204.64 405.34 L205.41 405.92 L206.18 405.68 L206.96 405.37 L207.75 405.94 L208.53 405.97 L209.32 406.05 L210.11 405.99 L210.89 406.6 L211.68 406.72 L212.47 406.66 L213.27 406.61 L214.07 406.19 L214.87 406.51 L215.67 407.18 L216.47 406.62 L217.28 406.12 L218.08 407.23 L218.86 407.08 L219.63 407.9 L220.41 407.28 L221.19 407.26 L221.96 407.06 L222.74 408.37 L223.53 408.84 L224.32 407.35 L225.11 407.29 L225.9 407.66 L226.68 406.93 L227.41 406.83 L228.14 406.47 L228.9 406.51 L229.69 406.97 L230.49 406.64 L231.28 407.1 L232.08 406.67 L232.87 407.06 L233.67 406.11 L234.46 406.29 L235.26 407.09 L236.05 406.44 L236.85 406.81 L237.64 406.7 L238.43 406.96 L239.21 406.97 L239.98 407.26 L240.75 407.02 L241.52 406.99 L242.3 407.19 L243.07 407.5 L243.86 407.37 L244.65 407.74 L245.44 408.05 L246.23 408.32 L246.97 408.34 L247.64 408.16 L248.3 409.34 L248.97 409.9 L249.64 410.69 L250.3 410.93 L250.97 410.89 L251.64 411.3 L252.3 412.84 L252.97 412.78 L253.63 413.66 L254.38 414.03 L255.17 412.98 L255.96 413.6 L256.75 413.76 L257.53 413.91 L258.29 413.65 L259.05 413.26 L259.81 413 L260.57 412.07 L261.34 412.4 L262.14 412.07 L262.93 412.33 L263.73 411.99 L264.52 412.33 L265.32 412.31 L266.11 412.04 L266.91 412.14 L267.7 412.15 L268.5 412.03 L269.29 412.25 L270.09 412.21 L270.88 412.68 L271.63 412.82 L272.38 413.32 L273.13 412.84 L273.88 414.01 L274.63 413.63 L275.38 413.92 L276.13 414.42 L276.88 414.55 L277.63 415.18 L278.38 415.11 L279.13 415.2 L279.88 415.57 L280.64 416.64 L281.44 416.17 L282.24 415.72 L283.04 416.22 L283.84 415.63 L284.64 417.01 L285.43 415.85 L286.2 416.84 L286.98 417.06 L287.76 416.46 L288.53 417.35 L289.31 417.83 L290.1 417.63 L290.89 417.45 L291.69 417.62 L292.48 417.21 L293.28 417.18 L294.07 416.9 L294.86 417.06 L295.64 416.24 L296.42 416.74 L297.19 416.02 L297.97 415.6 L298.75 415.98 L299.52 416.46 L300.27 416.45 L301.02 416.14 L301.77 416.9 L302.52 416.72 L303.27 417.14 L304.02 417.5 L304.74 416.89 L305.45 418.25 L306.17 418.12 L306.89 418.61 L307.6 418.66 L308.32 419 L309.05 419.52 L309.85 420.23 L310.65 420.57 L311.45 419.89 L312.25 420.34 L313.06 419.79 L313.86 419.15 L314.65 420.08 L315.45 420.29 L316.24 420.04 L317.04 420.43 L317.83 420.63 L318.62 420.16 L319.4 420.11 L320.18 420.81 L320.96 421 L321.73 421.14 L322.51 421.87 L323.29 422.36 L324.08 421.62 L324.87 422.16 L325.67 422.36 L326.46 422.37 L327.26 422.6 L328.05 422.13 L328.85 422.6 L329.65 423.11 L330.45 422.62 L331.26 422.05 L332.06 422.54 L332.86 422.8 L333.66 422.45 L334.46 422.07 L335.26 422.92 L336.06 421.8 L336.86 422.55 L337.65 422.48 L338.43 422.16 L339.22 423.26 L340.01 423.06 L340.8 422.6 L341.59 423.27 L342.39 422.75 L343.18 422.07 L343.98 422.45 L344.77 422.73 L345.57 422.78 L346.35 422.68 L347.14 422.78 L347.93 423.11 L348.71 422.99 L349.5 423.7 L350.28 423.44 L351.07 423.65 L351.86 423.91 L352.65 423.34 L353.45 423.55 L354.25 424.51 L355.05 424.1 L355.85 423.92 L356.64 424.23 L357.44 423.97 L358.24 424.34 L359.04 424.03 L359.83 424.53 L360.62 423.92 L361.41 425.22 L362.2 424.61 L362.99 424.32 L363.78 424.99 L364.57 425.06 L365.36 425.4 L366.15 425.02 L366.93 425.82 L367.71 427.3 L368.48 425.53 L369.26 426.38 L370.04 426.31 L370.81 426.71 L371.6 426.04 L372.4 426.4 L373.19 427.14 L373.99 427.04 L374.78 427.81 L375.58 426.97 L376.37 427.28 L377.14 428.18 L377.92 426.51 L378.7 426.26 L379.47 426.42 L380.25 426.22 L381.03 426.38 L381.8 425.9 L382.58 425.35 L383.36 425.54 L384.14 426.32 L384.91 425.58 L385.69 423.79 L386.49 424.92 L387.29 424.69 L388.09 425.36 L388.89 425.1 L389.68 426.01 L390.48 425.68 L391.28 425.74 L392.08 425.53 L392.87 425.51 L393.67 425.73 L394.47 426.19 L395.26 426.03 L396.03 425.87 L396.81 426.71 L397.59 426.47 L398.36 426.56 L399.14 426.47 L399.93 426.71 L400.72 426.78 L401.52 426.02 L402.31 427.64 L403.11 427.56 L403.9 427.34 L404.68 427.85 L405.43 427.32 L406.18 427.02 L406.93 425.6 L407.68 426.21 L408.43 426.24 L409.18 426.39 L409.97 426.55 L410.76 426.51 L411.55 425.61 L412.34 425.33 L413.09 426.66 L413.76 426.88 L414.43 427.7 L415.09 427.71 L415.76 428.29 L416.42 428.05 L417.21 428.88 L418.01 428.52 L418.81 428.84 L419.61 428.88 L420.41 428.65 L421.22 428.83 L422.02 428.69 L422.82 429 L423.62 428.9 L424.42 428.48 L425.22 428.46 L426.02 429.4 L426.82 428.75 L427.61 429.28 L428.41 429.14 L429.2 428.85 L430 428.88 L430.79 429.32 L431.59 429.48 L432.38 429.72 L433.18 429.07 L433.97 429.43 L434.77 429.73 L435.56 430.51 L436.35 429.06 L437.14 430.33 L437.92 430.08 L438.71 430.62 L439.5 430.4 L440.29 430.89 L441.07 431.32 L441.85 430.67 L442.64 430.53 L443.42 430.34 L444.2 429.72 L444.98 430.06 L445.76 429.58 L446.54 429.14 L447.32 429.26 L448.09 428.99 L448.87 429.18 L449.65 428.67 L450.44 428.43 L451.23 429.3 L452.03 429.19 L452.83 429.39 L453.63 429.2 L454.42 428.99 L455.22 428.96 L456 429.17 L456.79 429.82 L457.57 429.64 L458.36 429.16 L459.14 429.89 L459.93 429.5 L460.72 430.29 L461.5 429.9 L462.29 430.03 L463.07 430.74 L463.86 430.82 L464.64 430.34 L465.42 431.5 L466.19 432.29 L466.95 431.06 L467.72 432.61 L468.49 431.84 L469.26 432.15 L470.02 432.51 L470.81 432.16 L471.59 433.42 L472.38 433.25 L473.16 432.91 L473.95 433.26 L474.73 432.92 L475.53 433.46 L476.33 433.97 L477.13 432.91 L477.93 433.43 L478.73 433.66 L479.53 434.02 L480.33 434.12 L481.12 433.28 L481.92 433.04 L482.71 433.4 L483.5 432.95" stroke="#000"/>
<path d="M51.5 496.4 L52.3 496.4 L53.1 496.4 L53.9 496.4 L54.71 496.4 L55.51 496.4 L56.31 496.4 L56.55 495.79 L56.61 494.99 L56.67 494.2 L56.74 493.4 L56.8 492.6 L56.86 491.8 L56.93 491 L56.99 490.2 L57.05 489.4 L57.12 488.6 L57.18 487.81 L57.24 487.01 L57.31 486.21 L57.37 485.41 L57.43 484.61 L57.5 483.81 L57.56 483.01 L57.62 482.21 L57.69 481.42 L57.75 480.62 L57.8 479.82 L57.82 479.02 L57.84 478.21 L57.85 477.41 L57.87 476.61 L57.88 475.81 L57.9 475.01 L57.92 474.21 L57.93 473.41 L57.95 472.61 L57.96 471.81 L57.98 471 L58 470.2 L58.01 469.4 L58.03 468.6 L58.04 467.8 L58.06 467 L58.08 466.2 L58.09 465.4 L58.11 464.6 L58.12 463.79 L58.14 462.99 L58.16 462.19 L58.17 461.39 L58.19 460.59 L58.2 459.79 L58.22 458.99 L58.24 458.19 L58.25 457.39 L58.27 456.58 L58.28 455.78 L58.3 454.98 L58.32 454.18 L58.33 453.38 L58.35 452.58 L58.36 451.78 L58.38 450.98 L58.4 450.18 L58.41 449.37 L58.43 448.57 L58.44 447.77 L58.46 446.97 L58.48 446.17 L58.49 445.37 L58.51 444.57 L58.52 443.77 L58.54 442.97 L58.56 442.16 L58.57 441.36 L58.59 440.56 L58.6 439.76 L58.62 438.96 L58.64 438.16 L58.65 437.36 L58.67 436.56 L58.68 435.76 L58.7 434.95 L58.72 434.15 L58.73 433.35 L58.75 432.55 L58.76 431.75 L58.78 430.95 L58.8 430.15 L58.81 429.35 L58.83 428.55 L58.85 427.74 L58.86 426.94 L58.88 426.14 L58.89 425.34 L58.91 424.54 L58.93 423.74 L58.94 422.94 L58.96 422.14 L58.97 421.34 L58.99 420.53 L59.01 419.73 L59.02 418.93 L59.04 418.13 L59.06 417.33 L59.07 416.53 L59.09 415.73 L59.11 414.93 L59.12 414.13 L59.14 413.32 L59.16 412.52 L59.17 411.72 L59.19 410.92 L59.21 410.12 L59.22 409.32 L59.24 408.52 L59.26 407.72 L59.27 406.92 L59.29 406.11 L59.31 405.31 L59.32 404.51 L59.34 403.71 L59.36 402.91 L59.37 402.11 L59.39 401.31 L59.41 400.51 L59.42 399.71 L59.44 398.9 L59.46 398.1 L59.47 397.3 L59.49 396.5 L59.51 395.7 L59.52 394.9 L59.54 394.1 L59.56 393.3 L59.57 392.5 L59.59 391.69 L59.61 390.89 L59.62 390.09 L59.64 389.29 L59.66 388.49 L59.67 387.69 L59.69 386.89 L59.71 386.09 L59.72 385.29 L59.74 384.49 L59.76 383.68 L59.77 382.88 L59.79 382.08 L59.81 381.28 L59.82 380.48 L59.84 379.68 L59.86 378.88 L59.87 378.08 L59.89 377.28 L59.91 376.47 L59.92 375.67 L59.94 374.87 L59.96 374.07 L59.97 373.27 L59.99 372.47 L60.01 371.67 L60.02 370.87 L60.04 370.07 L60.06 369.26 L60.07 368.46 L60.09 367.66 L60.11 366.86 L60.12 366.06 L60.14 365.26 L60.16 364.46 L60.17 363.66 L60.19 362.86 L60.21 362.05 L60.22 361.25 L60.24 360.45 L60.26 359.65 L60.27 358.85 L60.29 358.05 L60.31 357.25 L60.32 356.45 L60.34 355.65 L60.36 354.84 L60.37 354.04 L60.39 353.24 L60.41 352.44 L60.42 351.64 L60.44 350.84 L60.46 350.04 L60.47 349.24 L60.49 348.44 L60.51 347.63 L60.52 346.83 L60.54 346.03 L60.56 345.23 L60.57 344.43 L60.59 343.63 L60.61 342.83 L60.62 342.03 L60.64 341.23 L60.66 340.42 L60.67 339.62 L60.69 338.82 L60.71 338.02 L60.72 337.22 L60.74 336.42 L60.76 335.62 L60.77 334.82 L60.79 334.02 L60.81 333.21 L60.82 332.41 L60.84 331.61 L60.86 330.81 L60.87 330.01 L60.89 329.21 L60.91 328.41 L60.92 327.61 L60.94 326.81 L60.96 326 L60.97 325.2 L60.99 324.4 L61.01 323.6 L61.02 322.8 L61.04 322 L61.06 321.2 L61.07 320.4 L61.09 319.6 L61.11 318.79 L61.12 317.99 L61.14 317.19 L61.16 316.39 L61.17 315.59 L61.19 314.79 L61.21 313.99 L61.22 313.19 L61.24 312.39 L61.26 311.58 L61.27 310.78 L61.29 309.98 L61.31 309.18 L61.32 308.38 L61.34 307.58 L61.36 306.78 L61.37 305.98 L61.39 305.18 L61.41 304.38 L61.42 303.57 L61.44 302.77 L61.46 301.97 L61.47 301.17 L61.49 300.37 L61.51 299.57 L61.52 298.77 L61.54 297.97 L61.56 297.17 L61.57 296.36 L61.59 295.56 L61.94 295.1 L62.74 295.1 L63.54 295.1 L64.34 295.1 L65.14 295.1 L65.94 295.1 L66.75 295.1 L67.55 295.1 L68.35 295.1 L69.15 295.1 L69.95 295.1 L70.75 295.1 L71.55 295.1 L72.35 295.1 L73.16 295.1 L73.96 295.1 L74.76 295.1 L75.56 295.1 L76.36 295.1 L77.16 295.1 L77.96 295.1 L78.77 295.1 L79.57 295.1 L80.37 295.1 L81.17 295.1 L81.97 295.1 L82.77 295.1 L83.57 295.1 L84.37 295.1 L85.18 295.1 L85.98 295.1 L86.78 295.1 L87.58 295.1 L88.38 295.1 L89.18 295.1 L89.98 295.1 L90.78 295.1 L91.59 295.1 L92.39 295.1 L93.19 295.1 L93.99 295.1 L94.79 295.1 L95.59 295.1 L96.39 295.1 L97.19 295.1 L97.37 295.79 L97.46 296.59 L97.54 297.39 L97.62 298.18 L97.71 298.98 L97.79 299.78 L97.88 300.57 L98.15 301.32 L98.5 302.04 L98.85 302.76 L99.2 303.48 L99.57 304.19 L99.96 304.89 L100.36 305.58 L100.76 306.28 L101.16 306.97 L101.55 307.67 L101.91 308.38 L102.21 309.13 L102.51 309.87 L102.81 310.61 L103.1 311.36 L103.4 312.1 L103.7 312.85 L104 313.59 L104.25 314.35 L104.41 315.13 L104.57 315.92 L104.73 316.7 L104.89 317.49 L105.05 318.27 L105.21 319.06 L105.37 319.84 L105.5 320.63 L105.61 321.43 L105.73 322.22 L105.85 323.01 L105.97 323.8 L106.09 324.6 L106.21 325.39 L106.33 326.18 L106.45 326.97 L106.56 327.77 L106.68 328.56 L106.8 329.35 L106.93 330.14 L107.11 330.92 L107.29 331.7 L107.47 332.48 L107.65 333.26 L107.83 334.05 L108.01 334.83 L108.19 335.61 L108.37 336.39 L108.55 337.17 L108.73 337.95 L108.91 338.73 L109.12 339.5 L109.34 340.27 L109.57 341.04 L109.79 341.81 L110.02 342.58 L110.24 343.35 L110.46 344.12 L110.69 344.89 L110.91 345.66 L111.13 346.43 L111.28 347.22 L111.43 348 L111.58 348.79 L111.73 349.58 L111.88 350.36 L112.04 351.15 L112.19 351.94 L112.31 352.73 L112.43 353.52 L112.55 354.31 L112.67 355.11 L112.78 355.9 L112.9 356.69 L113.02 357.48 L113.14 358.28 L113.26 359.07 L113.38 359.86 L113.5 360.65 L113.63 361.44 L113.76 362.24 L113.88 363.03 L114.01 363.82 L114.14 364.61 L114.26 365.4 L114.39 366.19 L114.52 366.98 L114.72 367.75 L115.08 368.46 L115.44 369.18 L115.8 369.9 L116.16 370.61 L116.53 371.32 L117.16 371.81 L117.8 372.3 L118.43 372.79 L119.07 373.28 L119.7 373.77 L120.23 374.35 L120.68 375.02 L121.12 375.68 L121.57 376.35 L122.01 377.02 L122.46 377.68 L122.9 378.35 L123.35 379.02 L123.79 379.69 L124.33 380.27 L124.95 380.78 L125.57 381.28 L126.19 381.79 L126.81 382.3 L127.42 382.81 L128.04 383.32 L128.66 383.82 L129.3 384.32 L129.94 384.79 L130.58 385.27 L131.23 385.74 L131.87 386.22 L132.52 386.7 L133.16 387.17 L133.81 387.65 L134.45 388.12 L135.1 388.6 L135.82 389.38 L136.53 389.61 L137.25 389.96 L137.97 390.68 L138.68 389.91 L139.4 390.5 L140.12 390.58 L140.86 391.37 L141.59 392.12 L142.33 392.02 L143.07 392.54 L143.81 391.88 L144.55 393.01 L145.29 392.9 L146.03 394.28 L146.79 394.19 L147.55 394.46 L148.31 394.31 L149.07 394.84 L149.83 395.11 L150.59 394.96 L151.35 395.15 L152.11 395.56 L152.9 395.49 L153.69 395.62 L154.48 395.88 L155.28 395.83 L156.07 396.56 L156.86 395.74 L157.65 396.84 L158.43 396.42 L159.2 396.68 L159.97 396.59 L160.73 397.3 L161.5 397.49 L162.27 397.9 L163.04 397.84 L163.82 398.26 L164.6 399.12 L165.39 398.71 L166.17 398.48 L166.96 399.25 L167.74 398.98 L168.53 399.43 L169.31 399.6 L170.09 399.37 L170.85 399.01 L171.61 399.9 L172.37 400.51 L173.13 400.39 L173.89 400.97 L174.65 401.44 L175.41 401.09 L176.18 402.04 L176.95 402.42 L177.72 402.42 L178.49 402.68 L179.26 402.87 L180.03 403.55 L180.8 402.95 L181.57 403.09 L182.34 403.55 L183.11 403.18 L183.86 403.19 L184.62 403.72 L185.37 404.5 L186.13 404.81 L186.88 404.27 L187.64 404.4 L188.39 405.3 L189.14 405.62 L189.9 405.94 L190.67 406.44 L191.45 406.86 L192.23 406.66 L193 407.01 L193.78 406.53 L194.56 406.69 L195.33 407.45 L196.11 407.82 L196.88 408.05 L197.66 408.19 L198.44 408.47 L199.21 408.67 L200 407.81 L200.79 408.29 L201.59 408.82 L202.39 408.94 L203.19 408.16 L203.99 409.3 L204.79 408.72 L205.59 408.87 L206.38 409.18 L207.15 409.57 L207.93 408.89 L208.71 410.06 L209.48 409.89 L210.26 409.75 L211.04 410.15 L211.81 409.58 L212.61 410.29 L213.41 410.69 L214.2 410.4 L215 410.62 L215.8 410.76 L216.6 410.9 L217.4 411.36 L218.2 411 L219 410.94 L219.8 411.29 L220.6 411.94 L221.4 411.01 L222.2 411.39 L223 410.58 L223.8 411.79 L224.6 411.55 L225.4 411.87 L226.2 411.4 L226.99 411.08 L227.79 411.93 L228.59 411.96 L229.39 411.39 L230.18 411.23 L230.98 412.08 L231.77 411.98 L232.55 413.26 L233.34 412.12 L234.12 412.31 L234.91 412.64 L235.7 412.17 L236.48 412.64 L237.27 413.81 L238.05 413.25 L238.84 413.22 L239.63 413.11 L240.41 414 L241.2 414.19 L241.98 414.18 L242.77 414.08 L243.56 414.47 L244.36 414.58 L245.16 414.23 L245.96 414.83 L246.75 413.82 L247.55 414.23 L248.35 414.7 L249.14 414.87 L249.93 414.6 L250.72 415.35 L251.5 415.8 L252.29 415.72 L253.07 415.78 L253.86 416.18 L254.64 416.17 L255.43 415.68 L256.23 416.13 L257.03 416.81 L257.83 415.92 L258.62 416.48 L259.42 416.38 L260.22 416.25 L261.02 416.29 L261.82 416.74 L262.62 416.83 L263.42 416.82 L264.22 416.12 L265.02 416.58 L265.82 416.84 L266.62 417.08 L267.42 416.99 L268.22 417.13 L269.02 417.32 L269.82 417.29 L270.61 416.72 L271.41 417.14 L272.21 416.92 L273.01 416.33 L273.79 416.75 L274.58 418.41 L275.37 417.29 L276.15 416.99 L276.94 417.81 L277.72 418.81 L278.51 418.34 L279.29 418.69 L280.06 418.64 L280.83 418.95 L281.6 419.71 L282.37 419.75 L283.14 419.62 L283.9 420.24 L284.67 420.54 L285.44 420.25 L286.21 420.65 L287 420.8 L287.79 420.59 L288.57 421.47 L289.36 421.1 L290.14 421.08 L290.93 420.82 L291.71 421.14 L292.51 422.31 L293.31 421.24 L294.11 421.87 L294.91 421.55 L295.72 421.9 L296.52 421.94 L297.32 421.39 L298.12 421.59 L298.9 421.9 L299.69 422.06 L300.48 422.16 L301.26 422.21 L302.05 422.74 L302.83 423.17 L303.62 423.02 L304.4 422.69 L305.17 423.37 L305.94 423.46 L306.71 423.84 L307.48 424.62 L308.24 424.02 L309.01 424.33 L309.78 424.2 L310.55 424.67 L311.32 424.77 L312.12 425.67 L312.92 425.18 L313.72 424.86 L314.53 425.89 L315.33 424.61 L316.13 425.51 L316.93 425.61 L317.73 425.46 L318.53 425.15 L319.33 425.23 L320.13 425.21 L320.92 425.77 L321.71 424.64 L322.51 425.48 L323.3 425.86 L324.09 425.68 L324.89 425.3 L325.68 426.04 L326.47 425.95 L327.27 426.69 L328.06 427.04 L328.86 426.46 L329.65 425.58 L330.45 426.2 L331.25 425.83 L332.05 426.39 L332.84 426.71 L333.64 426.08 L334.43 426.77 L335.21 426.76 L335.99 426.63 L336.76 426.2 L337.54 426.82 L338.32 426.39 L339.1 427.58 L339.87 427.41 L340.65 428.11 L341.43 427.88 L342.21 427.18 L343 428.13 L343.8 428.15 L344.59 428.36 L345.39 427.22 L346.19 427.15 L346.98 427.46 L347.78 426.92 L348.58 426.71 L349.37 426.73 L350.17 428.11 L350.97 426.74 L351.76 426.49 L352.56 426.63 L353.35 426.82 L354.11 427.56 L354.88 427.65 L355.65 427.82 L356.42 427.75 L357.18 428.03 L357.95 427.94 L358.72 427.82 L359.5 429.38 L360.3 428.42 L361.1 429.05 L361.9 428.55 L362.7 428.68 L363.5 428.7 L364.3 428.25 L365.1 428.81 L365.9 429.03 L366.71 429.25 L367.51 429.16 L368.31 429.41 L369.11 429.15 L369.91 429.07 L370.71 428.33 L371.5 429.02 L372.27 430.04 L373.05 429.66 L373.83 430.12 L374.61 429.91 L375.39 429.91 L376.16 431.2 L376.93 430.76 L377.7 431.45 L378.46 431.3 L379.23 431.2 L379.99 430.66 L380.76 431.82 L381.53 431.4 L382.29 431.37 L383.06 432.99 L383.85 432.78 L384.65 432.69 L385.45 432.4 L386.25 432.31 L387.05 432.44 L387.85 432.28 L388.65 432.2 L389.45 432.4 L390.24 431.02 L391.04 432.26 L391.83 431.55 L392.63 432.04 L393.42 432.07 L394.22 431.16 L395.01 431.72 L395.81 431.61 L396.6 430.91 L397.4 430.92 L398.2 431.24 L399 430.37 L399.8 431.14 L400.59 431.46 L401.39 431.27 L402.19 430.88 L402.99 431.42 L403.79 432.25 L404.59 432.24 L405.39 431.73 L406.18 431.52 L406.98 431.9 L407.78 431.98 L408.58 431.77 L409.38 431.97 L410.18 432.42 L410.97 432.62 L411.77 431.33 L412.57 432.77 L413.37 432.5 L414.17 432.97 L414.97 432.57 L415.77 432.82 L416.56 433.36 L417.36 431.58 L418.16 433.48 L418.96 432.99 L419.75 432.31 L420.54 432.11 L421.33 433.43 L422.12 433.03 L422.91 433.97 L423.7 433.79 L424.49 433.78 L425.28 434.36 L426.07 434.17 L426.87 434.46 L427.67 434.56 L428.47 434.42 L429.27 434.68 L430.07 434.74 L430.86 433.94 L431.66 434.45 L432.46 434.58 L433.26 434.54 L434.06 434.09 L434.86 434.53 L435.66 434.93 L436.46 434.91 L437.26 435.47 L438.06 434.65 L438.86 434.75 L439.66 434.73 L440.46 434.87 L441.26 434.83 L442.06 434.41 L442.85 435.39 L443.65 435.73 L444.45 435.88 L445.24 435.08 L446.04 435.52 L446.83 436.2 L447.62 435.29 L448.41 435.34 L449.2 435.01 L449.99 435.34 L450.78 435.2 L451.57 435.61 L452.36 434.75 L453.16 434.6 L453.95 433.81 L454.74 434 L455.53 433.84 L456.33 434.03 L457.13 433.68 L457.93 434.73 L458.73 433.86 L459.53 434.43 L460.33 433.86 L461.13 434.54 L461.93 435.1 L462.73 434.15 L463.53 434.67 L464.34 434.54 L465.14 434.72 L465.93 434.85 L466.73 434.51 L467.53 434.77 L468.32 434.69 L469.12 434.67 L469.92 434.59 L470.72 435.55 L471.51 434.95 L472.31 435.59 L473.11 435.62 L473.91 435.08 L474.7 435.98 L475.5 435.28 L476.3 435.92 L477.1 436.3 L477.9 435.48 L478.7 435.44 L479.5 435.48 L480.3 436.83 L481.1 435.81 L481.9 435.5 L482.7 436.38 L483.5 436.03" stroke="#0000ff"/>
<path d="M51.5 499 L51.8 499.74 L52.1 500.49 L52.39 501.23 L52.66 501.01 L52.92 500.25 L53.17 499.49 L53.42 498.73 L53.71 499.02 L54 499.76 L54.3 500.5 L54.62 500.76 L54.98 500.04 L55.34 499.33 L55.74 499.36 L56.19 500.03 L56.52 500.27 L56.57 499.47 L56.63 498.67 L56.69 497.87 L56.74 497.07 L56.8 496.27 L56.86 495.47 L56.91 494.67 L56.97 493.87 L57.03 493.07 L57.08 492.27 L57.14 491.47 L57.2 490.67 L57.25 489.87 L57.31 489.07 L57.37 488.28 L57.42 487.48 L57.48 486.68 L57.54 485.88 L57.59 485.08 L57.62 484.28 L57.63 483.48 L57.65 482.67 L57.67 481.87 L57.69 481.07 L57.71 480.27 L57.72 479.47 L57.74 478.67 L57.76 477.87 L57.78 477.07 L57.79 476.27 L57.81 475.46 L57.83 474.66 L57.85 473.86 L57.87 473.06 L57.88 472.26 L57.9 471.46 L57.92 470.66 L57.94 469.86 L57.95 469.05 L57.97 468.25 L57.99 467.45 L58.01 466.65 L58.03 465.85 L58.04 465.05 L58.06 464.25 L58.08 463.45 L58.1 462.65 L58.11 461.84 L58.13 461.04 L58.15 460.24 L58.17 459.44 L58.19 458.64 L58.2 457.84 L58.22 457.04 L58.24 456.24 L58.26 455.44 L58.27 454.63 L58.29 453.83 L58.31 453.03 L58.33 452.23 L58.35 451.43 L58.36 450.63 L58.38 449.83 L58.4 449.03 L58.42 448.22 L58.44 447.42 L58.45 446.62 L58.47 445.82 L58.49 445.02 L58.51 444.22 L58.52 443.42 L58.54 442.62 L58.56 441.82 L58.58 441.01 L58.6 440.21 L58.61 439.41 L58.62 438.61 L58.64 437.81 L58.65 437.01 L58.67 436.21 L58.68 435.41 L58.69 434.6 L58.71 433.8 L58.72 433 L58.74 432.2 L58.75 431.4 L58.76 430.6 L58.78 429.8 L58.79 429 L58.81 428.2 L58.82 427.39 L58.83 426.59 L58.85 425.79 L58.86 424.99 L58.88 424.19 L58.89 423.39 L58.9 422.59 L58.92 421.79 L58.93 420.98 L58.95 420.18 L58.96 419.38 L58.97 418.58 L58.99 417.78 L59 416.98 L59.02 416.18 L59.03 415.38 L59.04 414.57 L59.06 413.77 L59.07 412.97 L59.09 412.17 L59.1 411.37 L59.12 410.57 L59.13 409.77 L59.14 408.97 L59.16 408.16 L59.17 407.36 L59.19 406.56 L59.2 405.76 L59.21 404.96 L59.23 404.16 L59.24 403.36 L59.26 402.56 L59.27 401.75 L59.28 400.95 L59.3 400.15 L59.31 399.35 L59.32 398.55 L59.33 397.75 L59.33 396.95 L59.34 396.15 L59.35 395.34 L59.36 394.54 L59.37 393.74 L59.38 392.94 L59.39 392.14 L59.4 391.34 L59.41 390.54 L59.42 389.74 L59.43 388.93 L59.44 388.13 L59.44 387.33 L59.45 386.53 L59.46 385.73 L59.47 384.93 L59.48 384.13 L59.49 383.32 L59.5 382.52 L59.51 381.72 L59.52 380.92 L59.53 380.12 L59.54 379.32 L59.55 378.52 L59.55 377.72 L59.56 376.91 L59.57 376.11 L59.58 375.31 L59.59 374.51 L59.6 373.71 L59.61 372.91 L59.62 372.11 L59.63 371.31 L59.64 370.5 L59.65 369.7 L59.66 368.9 L59.66 368.1 L59.67 367.3 L59.68 366.5 L59.69 365.7 L59.7 364.89 L59.71 364.09 L59.72 363.29 L59.73 362.49 L59.74 361.69 L59.75 360.89 L59.76 360.09 L59.77 359.29 L59.77 358.48 L59.78 357.68 L59.79 356.88 L59.8 356.08 L59.81 355.28 L59.82 354.48 L59.83 353.68 L59.84 352.88 L59.85 352.07 L59.86 351.27 L59.87 350.47 L59.88 349.67 L59.88 348.87 L59.89 348.07 L59.9 347.27 L59.91 346.47 L59.92 345.66 L59.93 344.86 L59.94 344.06 L59.95 343.26 L59.96 342.46 L59.97 341.66 L59.98 340.86 L59.99 340.05 L59.99 339.25 L60 338.45 L60.01 337.65 L60.02 336.85 L60.03 336.05 L60.04 335.25 L60.05 334.45 L60.06 333.64 L60.07 332.84 L60.08 332.04 L60.09 331.24 L60.1 330.44 L60.1 329.64 L60.11 328.84 L60.12 328.04 L60.13 327.23 L60.14 326.43 L60.15 325.63 L60.16 324.83 L60.17 324.03 L60.18 323.23 L60.19 322.43 L60.2 321.62 L60.21 320.82 L60.21 320.02 L60.22 319.22 L60.23 318.42 L60.24 317.62 L60.25 316.82 L60.26 316.02 L60.27 315.21 L60.28 314.41 L60.29 313.61 L60.3 312.81 L60.31 312.01 L60.32 311.21 L60.32 310.41 L60.33 309.61 L60.34 308.8 L60.35 308 L60.36 307.2 L60.37 306.4 L60.38 305.6 L60.39 304.8 L60.4 304 L60.41 303.2 L60.42 302.39 L60.43 301.59 L60.43 300.79 L60.44 299.99 L60.45 299.19 L60.46 298.39 L60.47 297.59 L60.48 296.78 L60.49 295.98 L60.5 295.18 L61.22 295.1 L62.02 295.1 L62.82 295.1 L63.62 295.1 L64.42 295.1 L65.23 295.1 L66.03 295.1 L66.83 295.1 L67.63 295.1 L68.43 295.1 L69.23 295.1 L70.03 295.1 L70.84 295.1 L71.64 295.1 L72.44 295.1 L73.24 295.1 L74.04 295.1 L74.84 295.1 L75.64 295.1 L76.44 295.1 L77.25 295.1 L78.05 295.1 L78.85 295.1 L79.65 295.1 L80.45 295.1 L81.25 295.1 L82.05 295.1 L82.86 295.1 L83.66 295.1 L84.46 295.1 L85.26 295.1 L86.06 295.1 L86.86 295.1 L87.66 295.1 L88.47 295.1 L89.27 295.1 L90.07 295.1 L90.87 295.1 L91.67 295.1 L92.47 295.1 L93.27 295.1 L94.07 295.1 L94.88 295.1 L95.68 295.1 L96.48 295.1 L97.28 295.1 L98.08 295.1 L98.66 295.45 L99.01 296.17 L99.35 296.89 L100.32 297.68 L98.24 298.47 L100.18 299.26 L99.94 300.05 L100.65 300.83 L100.39 301.62 L101.19 302.4 L100.54 303.19 L100.45 303.98 L101.1 304.76 L101.23 305.54 L101.12 306.3 L101.4 307.07 L102.08 307.83 L102.31 308.6 L102.01 309.36 L102.27 310.14 L101.74 310.93 L103.42 311.72 L102.68 312.51 L103.5 313.31 L103.21 314.1 L104.01 314.89 L103.95 315.68 L103.48 316.48 L104.07 317.28 L103.04 318.08 L104.1 318.88 L102.93 319.68 L103.82 320.47 L104.21 321.27 L103.9 322.07 L103.7 322.87 L103.56 323.67 L103.84 324.47 L104.53 325.27 L104.52 326.07 L104.07 326.86 L103.75 327.66 L104.74 328.45 L103.92 329.24 L104.46 330.03 L104.5 330.82 L105.29 331.61 L105.2 332.4 L105.43 333.19 L105.47 333.98 L105.18 334.77 L105.85 335.56 L106.4 336.35 L105.94 337.13 L106.44 337.9 L106.29 338.68 L107 339.46 L107.03 340.24 L107.32 341.01 L107.28 341.79 L108.03 342.57 L107.29 343.36 L107.47 344.14 L107.51 344.93 L108.21 345.71 L107.8 346.16 L108.78 347.69 L107.2 348.39 L108.07 348.34 L108.51 348.99 L108.69 351.44 L109.28 350.82 L109.16 352.05 L109.57 352.29 L109.17 353.57 L110.98 353.1 L110.72 355.1 L111.22 354.79 L111.38 355.46 L111.82 357.79 L111.88 358.29 L112.83 358.63 L112.28 358.46 L112.79 359.87 L113.2 361.58 L113.17 360.57 L113.45 361.47 L113.95 363.64 L114.67 363.22 L115.63 364.19 L115.71 364.54 L115.59 365.85 L115.77 365.58 L116.41 367.47 L116.62 366.92 L117.02 369.62 L117.55 369.47 L117.31 369.74 L117.75 370.32 L119.36 370.03 L118.53 372.51 L118.41 372.64 L118.96 374.02 L118.71 374.51 L120.52 375.2 L120.26 375.58 L120.81 376.44 L120.82 377.65 L121.41 377.4 L121.48 378.37 L122.24 379.24 L122.72 379.86 L123.2 379.78 L123.67 380.86 L124.14 383.17 L124.62 382.66 L125.09 382.91 L125.56 384.88 L126.04 383.89 L126.61 383.35 L127.18 384.23 L127.74 385.01 L128.31 386.55 L128.88 387.51 L129.44 386.35 L130.01 388.72 L130.63 387.95 L131.24 389.28 L131.86 389.9 L132.47 390.4 L133.08 390.69 L133.66 391.33 L134.24 391.17 L134.81 392.51 L135.39 393.45 L135.96 393.98 L136.61 395.38 L137.28 394.98 L137.94 395.23 L138.61 396.19 L139.3 395.81 L140.04 395.27 L140.78 395.04 L141.53 397.27 L142.17 396.46 L142.79 396.11 L143.42 394.96 L144.04 394.84 L144.81 395.49 L145.6 394.48 L146.39 393.53 L146.94 394.34 L147.4 395.99 L147.87 395.28 L148.34 395.11 L148.8 395.92 L149.32 397.05 L149.94 398.74 L150.55 398.86 L151.17 398.91 L151.78 399.13 L152.47 399.91 L153.23 399.64 L153.99 399.16 L154.75 399.08 L155.53 398.75 L156.32 400.29 L157.11 398.12 L157.9 399.62 L158.58 399.36 L159.2 400.82 L159.81 400.82 L160.43 401.66 L161.04 402.26 L161.8 402.21 L162.6 402.65 L163.4 401.33 L164.2 402.62 L164.99 402.11 L165.78 402.57 L166.57 403.35 L167.36 403.18 L168.15 403.49 L168.93 400.99 L169.71 401.54 L170.5 402.64 L171.28 401.67 L172.06 402.37 L172.84 403.59 L173.62 403.31 L174.4 402.48 L175.11 403.59 L175.76 404.17 L176.4 404.33 L177.04 404.72 L177.68 405.34 L178.32 404.91 L178.96 406.29 L179.6 406.17 L180.32 406.56 L181.04 406.23 L181.76 405.16 L182.48 405.63 L183.21 405.14 L183.92 405.19 L184.64 405.97 L185.36 405.76 L186.07 406.13 L186.79 406.69 L187.51 406.97 L188.24 407.95 L189.03 406.15 L189.82 407.42 L190.61 406.61 L191.4 407.56 L192.19 408.09 L192.99 408.05 L193.78 408.68 L194.58 408.42 L195.37 406.83 L196.17 407.82 L196.95 409.45 L197.73 409.64 L198.51 409.03 L199.28 408.31 L200.06 410.56 L200.84 408.4 L201.57 410.02 L202.24 410.26 L202.9 410.87 L203.57 410.53 L204.24 411.4 L204.91 412.65 L205.63 411.44 L206.35 410.59 L207.07 410.99 L207.79 410.7 L208.51 410.22 L209.29 409.9 L210.09 410.74 L210.88 410.47 L211.68 409.99 L212.47 410.86 L213.27 410.82 L214.05 411.09 L214.83 410.27 L215.6 410.98 L216.38 411.85 L217.16 412.31 L217.94 412.18 L218.71 412.28 L219.49 412.78 L220.27 413.12 L221.05 413.75 L221.82 413.23 L222.6 412.86 L223.35 413.72 L224.05 412.76 L224.76 414.24 L225.47 414.34 L226.18 414.95 L226.93 415.49 L227.72 415.31 L228.52 414.56 L229.32 415.23 L230.12 415.03 L230.91 415.32 L231.7 415.39 L232.48 414.52 L233.27 415.32 L234.05 415.77 L234.83 415.1 L235.61 415.84 L236.39 414.81 L237.17 415.52 L237.95 416.54 L238.73 415.07 L239.53 415.66 L240.32 415.35 L241.12 416.38 L241.91 416.28 L242.71 415.2 L243.46 415.75 L244.18 414.6 L244.9 416.86 L245.61 416.95 L246.33 417.84 L247.05 416.16 L247.76 418.02 L248.55 417.77 L249.34 416.6 L250.14 417.74 L250.94 418.16 L251.74 418.72 L252.53 418.47 L253.33 418.16 L254.11 418.84 L254.82 418.9 L255.54 418.96 L256.26 419.11 L256.97 420.11 L257.69 420.48 L258.41 421.76 L259.12 420.86 L259.84 422.35 L260.56 422.02 L261.29 422.7 L262.07 421.36 L262.84 421.19 L263.62 421.31 L264.4 421.78 L265.18 421.2 L265.96 421.32 L266.74 420.89 L267.51 421.09 L268.29 420.44 L269.07 419.84 L269.85 420.22 L270.62 419.79 L271.31 421 L271.98 420.4 L272.65 420.99 L273.31 421.21 L273.98 422.46 L274.64 422.76 L275.28 423.12 L275.92 422.56 L276.56 422.89 L277.27 423.86 L278.02 423.82 L278.76 423.95 L279.51 421.86 L280.26 422.46 L280.86 421.11 L281.42 420.95 L281.99 420.79 L282.56 421.19 L283.12 420.94 L283.69 421.4 L284.26 422.18 L284.82 423.62 L285.39 424.82 L285.96 423.21 L286.52 424.47 L287.09 424.95 L287.84 425.86 L288.64 425.36 L289.43 425.87 L290.23 424.36 L291.02 424.83 L291.82 424.47 L292.61 424.02 L293.41 424.44 L294.2 423.78 L295 425.53 L295.8 424.46 L296.59 423.58 L297.39 423.71 L298.18 424.89 L298.98 423.58 L299.77 424.12 L300.57 423.96 L301.36 424.14 L301.96 424.23 L302.4 424.43 L302.84 424.89 L303.29 424.91 L303.73 426.52 L304.23 427.13 L304.98 426.57 L305.73 426.41 L306.48 425.54 L307.23 427.12 L307.98 425.37 L308.73 424.79 L309.52 425.05 L310.31 425.38 L311.11 425.98 L311.9 424.34 L312.7 426.06 L313.49 425.54 L314.23 426.06 L314.95 427.07 L315.67 427.29 L316.39 426.85 L317.11 427.52 L317.83 428.95 L318.55 429.03 L319.33 428.6 L320.1 427.93 L320.88 428.26 L321.66 427.76 L322.44 427.04 L323.21 426.6 L323.92 427.71 L324.6 428.06 L325.27 428.94 L325.95 428.43 L326.63 429.89 L327.31 429.35 L327.99 430.66 L328.74 430.27 L329.52 429.46 L330.3 429.06 L331.07 429.32 L331.85 429.04 L332.63 429.51 L333.39 428.37 L334.14 427.65 L334.88 428.16 L335.63 428.94 L336.38 428.49 L337.16 427.1 L337.96 427.22 L338.71 427.59 L339.28 427.61 L339.84 428.41 L340.41 428.96 L340.98 429.1 L341.54 429.9 L342.11 430.54 L342.68 431.51 L343.24 431.29 L343.94 431.95 L344.68 431.06 L345.43 430.86 L346.18 430.39 L346.92 432.92 L347.67 431.11 L348.41 430.87 L349.16 430.28 L349.93 429.66 L350.71 429.98 L351.5 430.26 L352.28 430.5 L353.07 430.74 L353.85 431.41 L354.64 429.1 L355.43 430.58 L356.17 431.54 L356.92 431.27 L357.66 431.68 L358.41 432.88 L359.15 432.47 L359.89 433.64 L360.64 432.93 L361.38 433.38 L362.15 432.52 L362.91 431.78 L363.68 432.42 L364.45 432.45 L365.22 432 L365.98 431.21 L366.75 432.09 L367.52 431.55 L368.24 431.87 L368.96 431.79 L369.68 433.48 L370.39 433.74 L371.11 433.45 L371.83 433.57 L372.55 434.12 L373.27 435.27 L374.02 435.92 L374.78 434.15 L375.55 433.68 L376.32 432.69 L377.09 434.99 L377.85 432.62 L378.62 433.47 L379.39 433.04 L380.18 433.36 L380.97 432.06 L381.77 431.54 L382.56 432.41 L383.36 432.46 L384.15 432.76 L384.9 431.4 L385.63 432.41 L386.36 432.85 L387.09 432.59 L387.82 433.58 L388.54 434.44 L389.28 434.3 L390.06 433.7 L390.84 434.86 L391.62 435.32 L392.4 435.32 L393.18 435.64 L393.95 434.26 L394.7 435.14 L395.45 434.94 L396.2 434.12 L396.95 434.01 L397.7 433.34 L398.45 434.2 L399.21 433.63 L399.96 433.55 L400.71 434.45 L401.46 434.69 L402.21 435.27 L402.97 434.72 L403.74 434.98 L404.54 435.67 L405.33 436.79 L406.13 435.91 L406.92 435 L407.72 435.95 L408.45 435.7 L409.11 435.56 L409.78 436.65 L410.45 437.15 L411.11 438.14 L411.78 438.97 L412.45 438.43 L413.11 437.8 L413.78 436.68 L414.45 436.56 L415.11 436 L415.82 436.42 L416.53 434.93 L417.25 434.62 L417.97 435.39 L418.68 434.53 L419.42 434.05 L420.18 434.67 L420.93 434.94 L421.68 435.25 L422.43 435.87 L423.18 435.91 L423.94 435.83 L424.74 435.75 L425.53 435.18 L426.33 435.98 L427.12 436.95 L427.92 436.54 L428.71 436.17 L429.49 436.59 L430.27 436.45 L431.04 437.27 L431.82 438.41 L432.6 438.5 L433.37 438.36 L434.09 438.48 L434.81 438.28 L435.53 438.08 L436.24 439.13 L436.96 439.24 L437.68 440.3 L438.37 440.05 L438.98 439.14 L439.6 439.19 L440.21 440.04 L440.83 437.42 L441.44 438.03 L442.13 437.36 L442.91 436.8 L443.69 436.26 L444.46 436.79 L445.21 437.18 L445.96 437.77 L446.71 438.01 L447.46 438.08 L448.19 437.85 L448.88 438.8 L449.56 438.79 L450.29 438.68 L451.08 439.62 L451.87 438.62 L452.66 438.2 L453.45 438.77 L454.24 437.51 L455.01 438.34 L455.79 438.43 L456.57 437.76 L457.35 437.93 L458.12 438.78 L458.84 438.02 L459.56 437.39 L460.27 436.85 L460.99 435.88 L461.71 435.72 L462.4 435.65 L463.07 436.26 L463.73 436.76 L464.4 436.69 L465.07 438.47 L465.67 437.53 L466.28 438.83 L466.88 439.73 L467.48 439.67 L468.09 439.84 L468.69 440.76 L469.28 441.99 L469.85 440.7 L470.41 439.63 L470.98 439.54 L471.55 438.55 L472.12 437.07 L472.87 438.52 L473.62 439.24 L474.37 439.59 L475.12 439.2 L475.87 438.74 L476.65 440.26 L477.46 439.51 L478.26 440.01 L479.06 440.22 L479.86 439.79 L480.53 439.89 L481.09 440.15 L481.66 440.82 L482.22 441.65 L482.68 442.03 L483.14 443.14 L483.6 442.52" stroke="#ff0000"/>
<path d="M56.8 501 L58.2 470 L59.6 400 L60.6 340" stroke="#ff0000" stroke-width="2.4"/>
</g>
<g font-family="'Liberation Sans', Arial, sans-serif" font-size="13.2" fill="#262626" stroke="#262626" stroke-width="0.2"><text x="55.5" y="523.9" text-anchor="middle">100</text><text x="98.3" y="523.9" text-anchor="middle">110</text><text x="141.1" y="523.9" text-anchor="middle">120</text><text x="183.9" y="523.9" text-anchor="middle">130</text><text x="226.7" y="523.9" text-anchor="middle">140</text><text x="269.5" y="523.9" text-anchor="middle">150</text><text x="312.3" y="523.9" text-anchor="middle">160</text><text x="355.1" y="523.9" text-anchor="middle">170</text><text x="397.9" y="523.9" text-anchor="middle">180</text><text x="440.7" y="523.9" text-anchor="middle">190</text><text x="483.5" y="523.9" text-anchor="middle">200</text><text x="46.2" y="509.5" text-anchor="end">0</text><text x="46.2" y="467.64" text-anchor="end">20</text><text x="46.2" y="425.78" text-anchor="end">40</text><text x="46.2" y="383.92" text-anchor="end">60</text><text x="46.2" y="342.06" text-anchor="end">80</text><text x="46.2" y="300.2" text-anchor="end">100</text></g>
<g font-family="'Liberation Sans', Arial, sans-serif" font-size="14.6" fill="#262626" stroke="#262626" stroke-width="0.2">
<text transform="translate(23.2 108.75) rotate(-90)" text-anchor="middle">Temperature y(t)</text>
<text transform="translate(15.7 399.65) rotate(-90)" text-anchor="middle">Control signal u(t)</text>
<text x="267.5" y="543" text-anchor="middle">Time[s]</text>
</g>
<rect x="278.5" y="126.8" width="86.2" height="69" fill="#fff" stroke="#262626" stroke-width="1"/><path d="M282.3 137.2H322.3" stroke="#000" stroke-width="1.5" stroke-dasharray="1.4 1.8"/><text x="325" y="142.1" font-family="'Liberation Sans', Arial, sans-serif" font-size="12.2" fill="#000" stroke="#000" stroke-width="0.15">w</text><path d="M282.3 153.4H322.3" stroke="#000" stroke-width="2.9"/><text x="325" y="158.3" font-family="'Liberation Sans', Arial, sans-serif" font-size="12.2" fill="#000" stroke="#000" stroke-width="0.15">MRDP</text><path d="M282.3 169.7H322.3" stroke="#0000ff" stroke-width="2.9"/><text x="325" y="174.6" font-family="'Liberation Sans', Arial, sans-serif" font-size="12.2" fill="#000" stroke="#000" stroke-width="0.15">APR</text><path d="M282.3 186H322.3" stroke="#ff0000" stroke-width="2.9"/><text x="325" y="190.9" font-family="'Liberation Sans', Arial, sans-serif" font-size="12.2" fill="#000" stroke="#000" stroke-width="0.15">PPM</text>
<rect x="385.8" y="303.6" width="86.8" height="52.6" fill="#fff" stroke="#262626" stroke-width="1"/><path d="M389.6 313.5H429.6" stroke="#000" stroke-width="2.9"/><text x="432.3" y="318.4" font-family="'Liberation Sans', Arial, sans-serif" font-size="12.2" fill="#000" stroke="#000" stroke-width="0.15">MRDP</text><path d="M389.6 329.9H429.6" stroke="#0000ff" stroke-width="2.9"/><text x="432.3" y="334.8" font-family="'Liberation Sans', Arial, sans-serif" font-size="12.2" fill="#000" stroke="#000" stroke-width="0.15">APR</text><path d="M389.6 346.3H429.6" stroke="#ff0000" stroke-width="2.9"/><text x="432.3" y="351.2" font-family="'Liberation Sans', Arial, sans-serif" font-size="12.2" fill="#000" stroke="#000" stroke-width="0.15">PPM</text>
</svg>
</body></html>
